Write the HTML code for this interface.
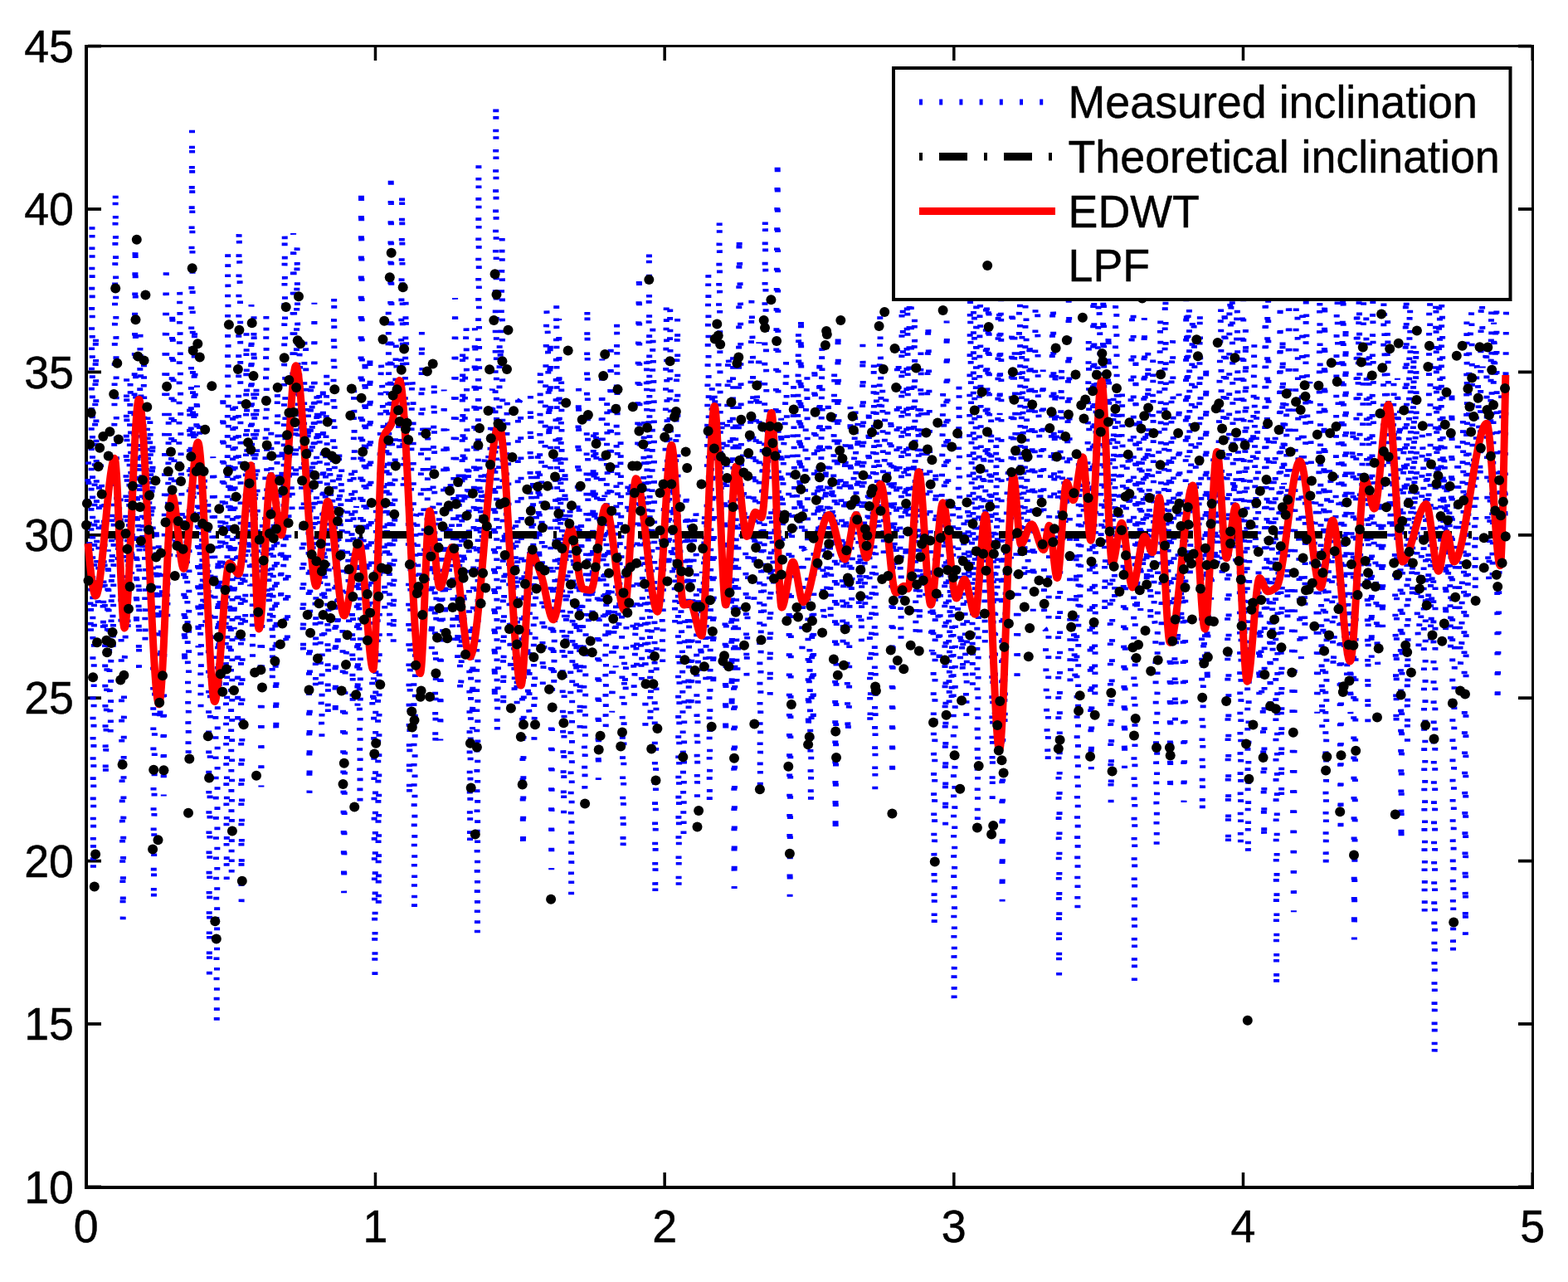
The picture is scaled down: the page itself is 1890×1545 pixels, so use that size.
<!DOCTYPE html>
<html><head><meta charset="utf-8"><style>html,body{margin:0;padding:0;background:#fff;overflow:hidden}svg{display:block}</style></head>
<body><svg width="1890" height="1545" viewBox="0 0 1890 1545">
<rect width="1890" height="1545" fill="#fff"/>
<g fill="#000">
<rect x="102" y="54" width="4" height="1379"/>
<rect x="102" y="54" width="1747" height="3"/>
<rect x="1846" y="54" width="3" height="1379"/>
<rect x="102" y="1429" width="1747" height="4"/>
<rect x="102.05" y="1413" width="3.5" height="16"/>
<rect x="102.05" y="57" width="3.5" height="16"/>
<rect x="450.72" y="1413" width="3.5" height="16"/>
<rect x="450.72" y="57" width="3.5" height="16"/>
<rect x="799.39" y="1413" width="3.5" height="16"/>
<rect x="799.39" y="57" width="3.5" height="16"/>
<rect x="1148.06" y="1413" width="3.5" height="16"/>
<rect x="1148.06" y="57" width="3.5" height="16"/>
<rect x="1496.73" y="1413" width="3.5" height="16"/>
<rect x="1496.73" y="57" width="3.5" height="16"/>
<rect x="1845.40" y="1413" width="3.5" height="16"/>
<rect x="1845.40" y="57" width="3.5" height="16"/>
<rect x="106" y="1428.50" width="16" height="3.8"/>
<rect x="1830" y="1428.50" width="16" height="3.8"/>
<rect x="106" y="1232.10" width="16" height="3.8"/>
<rect x="1830" y="1232.10" width="16" height="3.8"/>
<rect x="106" y="1035.70" width="16" height="3.8"/>
<rect x="1830" y="1035.70" width="16" height="3.8"/>
<rect x="106" y="839.30" width="16" height="3.8"/>
<rect x="1830" y="839.30" width="16" height="3.8"/>
<rect x="106" y="642.90" width="16" height="3.8"/>
<rect x="1830" y="642.90" width="16" height="3.8"/>
<rect x="106" y="446.50" width="16" height="3.8"/>
<rect x="1830" y="446.50" width="16" height="3.8"/>
<rect x="106" y="250.10" width="16" height="3.8"/>
<rect x="1830" y="250.10" width="16" height="3.8"/>
<rect x="106" y="53.70" width="16" height="3.8"/>
<rect x="1830" y="53.70" width="16" height="3.8"/>
</g>
<polyline points="105.0,604.8 106.5,556.3 108.0,658.4 109.5,767.4 111.0,267.8 112.4,1051.6 113.9,616.1 115.4,400.6 116.9,709.4 118.4,729.1 119.9,538.4 121.4,556.9 122.9,594.7 124.4,764.4 125.8,606.6 127.3,937.8 128.8,817.5 130.3,662.4 131.8,798.0 133.3,887.1 134.8,612.3 136.3,784.4 137.8,523.3 139.2,229.4 140.7,609.1 142.2,679.3 143.7,609.5 145.2,595.6 146.7,885.3 148.2,1108.5 149.7,805.8 151.1,776.1 152.6,455.5 154.1,763.3 155.6,622.5 157.1,456.2 158.6,691.9 160.1,599.9 161.6,550.7 163.1,295.5 164.5,758.0 166.0,533.0 167.5,805.5 169.0,400.6 170.5,529.8 172.0,664.6 173.5,435.7 175.0,776.6 176.5,572.1 177.9,498.7 179.4,639.8 180.9,504.4 182.4,642.5 183.9,529.3 185.4,1087.3 186.9,774.1 188.4,632.2 189.9,749.1 191.3,651.3 192.8,871.9 194.3,764.0 195.8,691.2 197.3,959.5 198.8,442.8 200.3,318.0 201.8,746.7 203.3,492.6 204.7,671.4 206.2,603.7 207.7,372.6 209.2,469.4 210.7,643.8 212.2,654.7 213.7,639.4 215.2,674.4 216.7,347.0 218.1,551.6 219.6,634.5 221.1,648.9 222.6,803.0 224.1,614.0 225.6,682.6 227.1,912.7 228.6,485.2 230.0,592.8 231.5,155.9 233.0,632.9 234.5,392.2 236.0,566.5 237.5,464.4 239.0,780.5 240.5,506.4 242.0,855.6 243.4,629.7 244.9,740.1 246.4,571.4 247.9,751.5 249.4,728.5 250.9,600.3 252.4,1175.4 253.9,685.6 255.4,698.4 256.8,550.4 258.3,583.8 259.8,845.6 261.3,1234.1 262.8,657.8 264.3,836.1 265.8,607.4 267.3,789.0 268.8,472.6 270.2,597.3 271.7,608.5 273.2,1062.2 274.7,302.0 276.2,804.4 277.7,552.1 279.2,1055.6 280.7,486.9 282.2,758.4 283.6,484.9 285.1,595.1 286.6,877.3 288.1,275.7 289.6,372.4 291.1,1087.8 292.6,652.6 294.1,626.7 295.6,757.4 297.0,400.4 298.5,671.6 300.0,583.8 301.5,706.4 303.0,367.0 304.5,795.9 306.0,380.8 307.5,634.8 308.9,460.8 310.4,633.4 311.9,758.3 313.4,694.7 314.9,948.4 316.4,626.2 317.9,682.1 319.4,659.6 320.9,377.6 322.3,726.5 323.8,696.3 325.3,756.1 326.8,519.5 328.3,823.2 329.8,615.6 331.3,691.0 332.8,886.1 334.3,469.0 335.7,601.0 337.2,587.9 338.7,728.4 340.2,523.6 341.7,688.0 343.2,278.3 344.7,771.1 346.2,780.9 347.7,652.2 349.1,508.3 350.6,554.8 352.1,616.0 353.6,281.0 355.1,425.0 356.6,581.0 358.1,296.9 359.6,530.0 361.1,423.1 362.5,479.0 364.0,645.5 365.5,791.2 367.0,405.4 368.5,410.9 370.0,606.4 371.5,499.3 373.0,955.8 374.5,465.4 375.9,456.4 377.4,694.0 378.9,364.8 380.4,833.2 381.9,477.1 383.4,537.0 384.9,469.0 386.4,804.8 387.9,890.9 389.3,461.9 390.8,766.0 392.3,592.5 393.8,445.9 395.3,865.0 396.8,544.7 398.3,583.6 399.8,636.2 401.2,592.5 402.7,353.7 404.2,864.9 405.7,642.7 407.2,783.9 408.7,539.2 410.2,639.2 411.7,563.5 413.2,801.6 414.6,1076.2 416.1,803.7 417.6,783.2 419.1,598.0 420.6,760.3 422.1,564.4 423.6,563.5 425.1,852.4 426.6,463.6 428.0,625.5 429.5,610.1 431.0,850.7 432.5,682.6 434.0,969.6 435.5,226.8 437.0,598.6 438.5,667.1 440.0,429.6 441.4,635.3 442.9,755.5 444.4,734.7 445.9,425.6 447.4,647.1 448.9,855.7 450.4,816.3 451.9,1176.7 453.4,610.0 454.8,611.4 456.3,1095.3 457.8,577.2 459.3,433.8 460.8,468.6 462.3,523.5 463.8,734.9 465.3,471.6 466.8,672.8 468.2,371.8 469.7,770.5 471.2,208.2 472.7,554.8 474.2,774.8 475.7,625.8 477.2,413.2 478.7,475.9 480.1,494.9 481.6,546.6 483.1,523.5 484.6,230.7 486.1,592.4 487.6,584.4 489.1,362.3 490.6,516.3 492.1,584.2 493.5,961.7 495.0,671.1 496.5,453.3 498.0,471.6 499.5,1097.9 501.0,625.7 502.5,614.8 504.0,698.8 505.5,693.5 506.9,650.3 508.4,399.1 509.9,550.9 511.4,642.0 512.9,716.5 514.4,713.4 515.9,510.9 517.4,580.1 518.9,650.3 520.3,782.1 521.8,610.6 523.3,457.3 524.8,899.5 526.3,654.5 527.8,657.8 529.3,604.6 530.8,892.5 532.3,662.3 533.7,765.3 535.2,469.6 536.7,746.8 538.2,516.7 539.7,664.7 541.2,711.2 542.7,575.5 544.2,607.1 545.7,774.4 547.1,529.6 548.6,359.0 550.1,646.9 551.6,792.9 553.1,566.9 554.6,836.1 556.1,817.3 557.6,419.1 559.0,792.8 560.5,461.4 562.0,390.1 563.5,606.6 565.0,558.7 566.5,1019.3 568.0,752.3 569.5,879.2 571.0,641.2 572.4,395.2 573.9,479.1 575.4,1128.9 576.9,196.3 578.4,711.4 579.9,571.1 581.4,649.2 582.9,572.1 584.4,552.0 585.8,646.4 587.3,596.6 588.8,549.1 590.3,592.6 591.8,488.2 593.3,468.5 594.8,554.9 596.3,845.6 597.8,125.5 599.2,884.9 600.7,793.0 602.2,410.8 603.7,437.8 605.2,283.6 606.7,854.7 608.2,635.1 609.7,694.4 611.2,480.5 612.6,560.2 614.1,737.7 615.6,813.0 617.1,633.9 618.6,663.0 620.1,835.8 621.6,628.9 623.1,849.2 624.6,471.9 626.0,483.6 627.5,481.5 629.0,743.8 630.5,1023.0 632.0,673.4 633.5,707.2 635.0,688.8 636.5,841.7 637.9,858.5 639.4,475.9 640.9,641.6 642.4,573.2 643.9,894.2 645.4,744.1 646.9,583.4 648.4,548.2 649.9,679.7 651.3,443.6 652.8,583.4 654.3,825.7 655.8,780.3 657.3,489.5 658.8,372.3 660.3,403.0 661.8,531.9 663.3,407.9 664.7,1048.2 666.2,687.0 667.7,827.2 669.2,665.4 670.7,365.6 672.2,740.3 673.7,384.0 675.2,688.6 676.7,453.7 678.1,827.2 679.6,981.5 681.1,551.1 682.6,781.0 684.1,686.6 685.6,677.4 687.1,607.1 688.6,1082.0 690.1,739.8 691.5,653.9 693.0,779.1 694.5,827.1 696.0,621.3 697.5,467.8 699.0,878.4 700.5,621.9 702.0,733.7 703.5,789.2 704.9,953.7 706.4,711.9 707.9,369.0 709.4,756.3 710.9,559.3 712.4,663.0 713.9,751.1 715.4,522.4 716.8,644.9 718.3,513.1 719.8,618.8 721.3,940.0 722.8,619.3 724.3,589.2 725.8,432.6 727.3,744.8 728.8,596.6 730.2,880.3 731.7,480.2 733.2,774.6 734.7,604.4 736.2,410.7 737.7,858.6 739.2,788.9 740.7,734.9 742.2,804.4 743.6,385.0 745.1,758.2 746.6,747.3 748.1,530.0 749.6,758.5 751.1,1025.7 752.6,797.2 754.1,836.3 755.6,681.1 757.0,579.0 758.5,617.2 760.0,576.1 761.5,586.1 763.0,762.3 764.5,844.1 766.0,748.8 767.5,803.2 769.0,452.7 770.4,329.4 771.9,746.1 773.4,822.0 774.9,651.0 776.4,506.5 777.9,884.9 779.4,429.2 780.9,791.8 782.4,299.8 783.8,873.3 785.3,788.1 786.8,392.5 788.3,491.0 789.8,1080.7 791.3,780.3 792.8,700.2 794.3,637.0 795.8,641.4 797.2,636.4 798.7,802.0 800.2,614.7 801.7,600.7 803.2,367.1 804.7,600.1 806.2,699.6 807.7,367.0 809.1,666.1 810.6,690.2 812.1,579.5 813.6,753.3 815.1,483.9 816.6,382.8 818.1,1073.3 819.6,646.9 821.1,746.6 822.5,789.1 824.0,1009.3 825.5,723.5 827.0,591.2 828.5,631.3 830.0,860.5 831.5,619.0 833.0,857.3 834.5,735.5 835.9,682.7 837.4,619.5 838.9,611.6 840.4,963.0 841.9,713.0 843.4,705.9 844.9,808.7 846.4,688.9 847.9,732.1 849.3,614.9 850.8,822.4 852.3,566.2 853.8,326.0 855.3,969.6 856.8,640.3 858.3,462.7 859.8,830.5 861.3,469.2 862.7,508.9 864.2,509.7 865.7,503.9 867.2,262.5 868.7,639.2 870.2,500.8 871.7,546.9 873.2,592.6 874.7,886.6 876.1,538.1 877.6,425.6 879.1,444.0 880.6,565.0 882.1,857.1 883.6,425.3 885.1,1070.9 886.6,509.2 888.0,824.9 889.5,794.0 891.0,283.6 892.5,368.4 894.0,651.1 895.5,547.6 897.0,615.1 898.5,641.5 900.0,814.9 901.4,718.8 902.9,528.3 904.4,531.3 905.9,360.9 907.4,425.9 908.9,722.9 910.4,601.2 911.9,468.5 913.4,493.8 914.8,412.3 916.3,949.8 917.8,646.3 919.3,531.1 920.8,756.9 922.3,261.1 923.8,474.5 925.3,573.8 926.8,505.2 928.2,838.8 929.7,611.5 931.2,653.8 932.7,706.7 934.2,629.5 935.7,435.7 937.2,192.4 938.7,717.0 940.2,628.4 941.6,503.7 943.1,652.8 944.6,538.6 946.1,512.9 947.6,433.6 949.1,569.4 950.6,568.1 952.1,1080.7 953.6,705.2 955.0,619.7 956.5,459.8 958.0,641.1 959.5,624.6 961.0,585.7 962.5,395.5 964.0,630.4 965.5,379.5 966.9,792.6 968.4,661.1 969.9,662.8 971.4,495.7 972.9,450.8 974.4,880.7 975.9,778.4 977.4,969.6 978.9,730.6 980.3,874.0 981.8,438.9 983.3,528.2 984.8,525.7 986.3,686.6 987.8,430.0 989.3,642.0 990.8,414.0 992.3,751.3 993.7,739.9 995.2,559.8 996.7,712.0 998.2,478.9 999.7,549.1 1001.2,749.5 1002.7,582.4 1004.2,655.6 1005.7,443.4 1007.1,1004.8 1008.6,676.5 1010.1,399.8 1011.6,595.8 1013.1,571.3 1014.6,630.8 1016.1,775.8 1017.6,591.8 1019.1,535.2 1020.5,750.3 1022.0,886.2 1023.5,848.2 1025.0,490.1 1026.5,727.6 1028.0,620.6 1029.5,558.7 1031.0,488.6 1032.5,649.5 1033.9,509.9 1035.4,746.7 1036.9,660.4 1038.4,775.5 1039.9,414.5 1041.4,613.0 1042.9,735.2 1044.4,670.5 1045.8,647.8 1047.3,490.1 1048.8,875.2 1050.3,777.4 1051.8,662.3 1053.3,433.0 1054.8,953.7 1056.3,466.5 1057.8,623.1 1059.2,643.2 1060.7,375.3 1062.2,496.6 1063.7,468.3 1065.2,670.5 1066.7,493.2 1068.2,478.0 1069.7,491.3 1071.2,637.3 1072.6,536.7 1074.1,499.8 1075.6,937.3 1077.1,560.8 1078.6,680.9 1080.1,683.4 1081.6,420.0 1083.1,437.3 1084.6,620.6 1086.0,774.8 1087.5,196.7 1089.0,565.1 1090.5,572.8 1092.0,676.4 1093.5,315.0 1095.0,628.8 1096.5,286.4 1098.0,294.3 1099.4,617.4 1100.9,648.7 1102.4,378.0 1103.9,766.8 1105.4,589.7 1106.9,485.1 1108.4,763.6 1109.9,423.9 1111.4,564.3 1112.8,706.8 1114.3,688.5 1115.8,722.4 1117.3,505.1 1118.8,388.3 1120.3,502.0 1121.8,743.3 1123.3,785.4 1124.7,689.4 1126.2,1118.3 1127.7,563.5 1129.2,643.4 1130.7,730.9 1132.2,802.9 1133.7,701.2 1135.2,597.7 1136.7,470.1 1138.1,528.5 1139.6,994.7 1141.1,386.6 1142.6,534.1 1144.1,851.7 1145.6,655.0 1147.1,846.0 1148.6,603.6 1150.1,1208.2 1151.5,748.7 1153.0,736.3 1154.5,749.7 1156.0,460.7 1157.5,794.4 1159.0,764.3 1160.5,814.9 1162.0,625.2 1163.5,782.0 1164.9,865.6 1166.4,598.3 1167.9,704.0 1169.4,347.8 1170.9,524.1 1172.4,830.3 1173.9,186.6 1175.4,715.8 1176.9,309.9 1178.3,992.9 1179.8,636.7 1181.3,314.5 1182.8,654.7 1184.3,582.2 1185.8,542.1 1187.3,779.0 1188.8,240.0 1190.3,556.2 1191.7,305.3 1193.2,636.6 1194.7,504.3 1196.2,964.3 1197.7,635.6 1199.2,860.8 1200.7,530.3 1202.2,727.2 1203.7,200.3 1205.1,500.1 1206.6,345.8 1208.1,1086.5 1209.6,650.1 1211.1,876.4 1212.6,646.8 1214.1,591.6 1215.6,561.8 1217.0,589.7 1218.5,673.5 1220.0,261.8 1221.5,564.9 1223.0,404.7 1224.5,616.0 1226.0,825.3 1227.5,705.8 1229.0,227.9 1230.4,665.9 1231.9,403.7 1233.4,535.6 1234.9,711.9 1236.4,256.5 1237.9,588.9 1239.4,694.3 1240.9,409.7 1242.4,447.5 1243.8,497.4 1245.3,736.8 1246.8,652.1 1248.3,312.5 1249.8,208.3 1251.3,478.5 1252.8,527.6 1254.3,619.0 1255.8,499.9 1257.2,445.6 1258.7,757.4 1260.2,758.9 1261.7,866.3 1263.2,920.7 1264.7,621.3 1266.2,595.9 1267.7,505.8 1269.2,306.5 1270.6,598.5 1272.1,443.1 1273.6,541.1 1275.1,558.3 1276.6,1176.7 1278.1,546.3 1279.6,439.4 1281.1,658.1 1282.6,576.2 1284.0,629.7 1285.5,617.4 1287.0,517.1 1288.5,325.0 1290.0,825.3 1291.5,765.4 1293.0,749.8 1294.5,764.9 1295.9,816.5 1297.4,636.1 1298.9,1099.2 1300.4,542.3 1301.9,736.4 1303.4,611.2 1304.9,575.9 1306.4,620.3 1307.9,634.7 1309.3,627.7 1310.8,570.8 1312.3,404.6 1313.8,750.2 1315.3,927.3 1316.8,715.9 1318.3,174.4 1319.8,843.1 1321.3,443.3 1322.7,477.1 1324.2,350.1 1325.7,393.7 1327.2,662.6 1328.7,556.1 1330.2,295.2 1331.7,740.4 1333.2,604.0 1334.7,532.9 1336.1,399.5 1337.6,602.5 1339.1,967.7 1340.6,767.3 1342.1,478.7 1343.6,725.4 1345.1,217.6 1346.6,553.3 1348.1,468.7 1349.5,633.5 1351.0,632.5 1352.5,470.6 1354.0,672.5 1355.5,925.9 1357.0,635.7 1358.5,548.0 1360.0,554.2 1361.5,640.0 1362.9,493.4 1364.4,396.9 1365.9,274.6 1367.4,1184.4 1368.9,426.7 1370.4,740.3 1371.9,620.3 1373.4,500.9 1374.8,735.9 1376.3,550.8 1377.8,688.9 1379.3,383.0 1380.8,542.4 1382.3,706.8 1383.8,424.0 1385.3,616.7 1386.8,751.4 1388.2,636.3 1389.7,431.7 1391.2,743.8 1392.7,755.9 1394.2,1022.5 1395.7,650.9 1397.2,500.4 1398.7,382.0 1400.2,787.5 1401.6,658.5 1403.1,674.7 1404.6,284.1 1406.1,656.6 1407.6,732.4 1409.1,537.0 1410.6,955.6 1412.1,447.7 1413.6,409.4 1415.0,670.9 1416.5,868.9 1418.0,723.6 1419.5,779.8 1421.0,474.4 1422.5,632.8 1424.0,754.1 1425.5,650.3 1427.0,967.0 1428.4,851.1 1429.9,311.4 1431.4,551.2 1432.9,184.4 1434.4,697.4 1435.9,533.3 1437.4,380.8 1438.9,381.1 1440.4,473.6 1441.8,613.9 1443.3,664.6 1444.8,669.8 1446.3,374.2 1447.8,589.7 1449.3,980.2 1450.8,753.1 1452.3,807.3 1453.7,437.9 1455.2,825.3 1456.7,701.5 1458.2,574.8 1459.7,722.7 1461.2,674.7 1462.7,551.9 1464.2,680.7 1465.7,583.8 1467.1,686.0 1468.6,577.6 1470.1,452.8 1471.6,368.6 1473.1,692.8 1474.6,513.7 1476.1,370.5 1477.6,431.6 1479.1,583.0 1480.5,1022.0 1482.0,336.7 1483.5,393.4 1485.0,307.4 1486.5,610.6 1488.0,576.0 1489.5,678.9 1491.0,319.5 1492.5,553.9 1493.9,575.2 1495.4,1021.2 1496.9,443.0 1498.4,264.0 1499.9,779.5 1501.4,396.8 1502.9,619.4 1504.4,1031.8 1505.9,654.9 1507.3,506.1 1508.8,528.5 1510.3,551.7 1511.8,411.0 1513.3,666.2 1514.8,476.2 1516.3,556.2 1517.8,837.4 1519.3,739.7 1520.7,834.3 1522.2,849.2 1523.7,1013.2 1525.2,285.1 1526.7,739.7 1528.2,228.2 1529.7,682.3 1531.2,847.4 1532.6,573.2 1534.1,790.9 1535.6,526.7 1537.1,518.7 1538.6,1190.5 1540.1,719.2 1541.6,668.6 1543.1,351.7 1544.6,965.6 1546.0,404.2 1547.5,583.9 1549.0,499.6 1550.5,481.8 1552.0,751.4 1553.5,324.8 1555.0,592.9 1556.5,615.4 1558.0,869.4 1559.4,1099.2 1560.9,594.2 1562.4,354.3 1563.9,367.5 1565.4,627.5 1566.9,779.9 1568.4,793.9 1569.9,296.7 1571.4,536.8 1572.8,772.3 1574.3,336.2 1575.8,504.5 1577.3,471.6 1578.8,460.0 1580.3,552.9 1581.8,702.7 1583.3,683.9 1584.8,637.8 1586.2,599.8 1587.7,859.7 1589.2,781.3 1590.7,335.0 1592.2,682.4 1593.7,877.8 1595.2,730.3 1596.7,349.4 1598.2,1045.0 1599.6,590.2 1601.1,718.4 1602.6,562.0 1604.1,583.4 1605.6,716.2 1607.1,807.1 1608.6,756.3 1610.1,610.6 1611.6,300.4 1613.0,482.3 1614.5,712.9 1616.0,1006.1 1617.5,454.2 1619.0,329.3 1620.5,784.6 1622.0,390.2 1623.5,818.9 1624.9,724.7 1626.4,721.8 1627.9,860.2 1629.4,566.1 1630.9,512.0 1632.4,1132.5 1633.9,837.8 1635.4,335.0 1636.9,483.0 1638.3,335.4 1639.8,711.0 1641.3,611.6 1642.8,503.2 1644.3,235.9 1645.8,193.7 1647.3,484.0 1648.8,871.3 1650.3,410.7 1651.7,604.8 1653.2,792.7 1654.7,335.7 1656.2,662.7 1657.7,666.8 1659.2,744.7 1660.7,801.0 1662.2,597.1 1663.7,574.5 1665.1,644.9 1666.6,756.1 1668.1,312.6 1669.6,496.1 1671.1,560.3 1672.6,383.4 1674.1,538.2 1675.6,649.6 1677.1,552.8 1678.5,643.6 1680.0,457.3 1681.5,693.4 1683.0,876.7 1684.5,455.7 1686.0,536.7 1687.5,494.9 1689.0,1015.6 1690.5,674.2 1691.9,541.6 1693.4,599.2 1694.9,235.4 1696.4,895.5 1697.9,615.4 1699.4,319.2 1700.9,644.1 1702.4,723.7 1703.8,415.2 1705.3,651.3 1706.8,415.7 1708.3,739.8 1709.8,782.5 1711.3,738.3 1712.8,745.4 1714.3,520.7 1715.8,566.6 1717.2,1104.0 1718.7,599.6 1720.2,542.0 1721.7,732.2 1723.2,191.3 1724.7,774.1 1726.2,690.0 1727.7,674.9 1729.2,1273.8 1730.6,312.6 1732.1,579.4 1733.6,569.9 1735.1,305.6 1736.6,655.0 1738.1,278.9 1739.6,650.6 1741.1,535.5 1742.6,759.1 1744.0,576.2 1745.5,698.5 1747.0,613.7 1748.5,785.7 1750.0,467.4 1751.5,1151.0 1753.0,830.5 1754.5,667.3 1756.0,594.7 1757.4,526.6 1758.9,720.3 1760.4,802.0 1761.9,774.4 1763.4,502.3 1764.9,767.2 1766.4,1127.1 1767.9,384.1 1769.4,722.4 1770.8,412.4 1772.3,405.7 1773.8,372.6 1775.3,593.8 1776.8,546.0 1778.3,726.4 1779.8,436.5 1781.3,455.4 1782.7,515.7 1784.2,577.8 1785.7,264.0 1787.2,443.4 1788.7,408.4 1790.2,437.8 1791.7,417.9 1793.2,659.5 1794.7,698.5 1796.1,610.4 1797.6,369.5 1799.1,697.3 1800.6,388.7 1802.1,455.9 1803.6,292.2 1805.1,847.7 1806.6,725.9 1808.1,601.8 1809.5,475.1 1811.0,512.8 1812.5,510.3 1814.0,630.8 1815.5,362.2" fill="none" stroke="#00f" stroke-width="7" stroke-dasharray="3.6 20.6" stroke-linejoin="miter" stroke-miterlimit="1"/>
<line x1="104" y1="644.6" x2="355" y2="644.6" stroke="#000" stroke-width="9" stroke-dasharray="4 20 34 20"/>
<line x1="355" y1="644.6" x2="790" y2="644.6" stroke="#000" stroke-width="9" stroke-dasharray="4 20 34 20"/>
<line x1="790" y1="644.6" x2="1380" y2="644.6" stroke="#000" stroke-width="9" stroke-dasharray="4 20 34 20"/>
<line x1="1380" y1="644.6" x2="1815.5" y2="644.6" stroke="#000" stroke-width="9" stroke-dasharray="4 20 34 20"/>
<polyline points="106.0,655.0 106.5,660.3 107.0,665.6 107.5,670.7 108.0,675.7 108.5,680.5 109.0,685.1 109.5,689.6 110.0,693.7 110.5,697.7 111.0,701.3 111.5,704.7 112.0,707.7 112.5,710.4 113.0,712.7 113.5,714.6 114.0,716.1 114.5,717.2 115.0,717.8 115.5,718.0 116.0,717.7 116.5,716.9 117.0,715.7 117.5,714.0 118.0,712.0 118.5,709.7 119.0,706.9 119.5,703.9 120.0,700.5 120.5,696.9 121.0,693.0 121.5,688.8 122.0,684.4 122.5,679.8 123.0,675.1 123.5,670.2 124.0,665.1 124.5,660.0 125.0,654.7 125.5,649.3 126.0,643.9 126.5,638.5 127.0,633.1 127.5,627.6 128.0,622.2 128.5,616.9 129.0,611.6 129.5,606.4 130.0,601.3 130.5,596.4 131.0,591.6 131.5,587.0 132.0,582.6 132.5,578.4 133.0,574.4 133.5,570.7 134.0,567.3 134.5,564.2 135.0,561.4 135.5,558.9 136.0,556.8 136.5,555.1 137.0,553.8 137.5,553.0 138.0,552.5 138.5,552.9 139.0,555.2 139.5,559.4 140.0,565.3 140.5,572.8 141.0,581.6 141.5,591.5 142.0,602.5 142.5,614.2 143.0,626.5 143.5,639.2 144.0,652.2 144.5,665.1 145.0,678.0 145.5,690.5 146.0,702.4 146.5,713.7 147.0,724.1 147.5,733.4 148.0,741.4 148.5,747.9 149.0,752.8 149.5,755.9 150.0,757.0 150.5,756.3 151.0,754.4 151.5,751.2 152.0,746.9 152.5,741.6 153.0,735.2 153.5,728.0 154.0,720.0 154.5,711.2 155.0,701.8 155.5,691.8 156.0,681.2 156.5,670.3 157.0,659.0 157.5,647.5 158.0,635.7 158.5,623.9 159.0,612.0 159.5,600.1 160.0,588.4 160.5,576.9 161.0,565.7 161.5,554.8 162.0,544.4 162.5,534.5 163.0,525.2 163.5,516.6 164.0,508.7 164.5,501.6 165.0,495.5 165.5,490.3 166.0,486.3 166.5,483.3 167.0,481.6 167.5,481.2 168.0,481.9 168.5,483.4 169.0,485.8 169.5,489.0 170.0,493.0 170.5,497.8 171.0,503.2 171.5,509.3 172.0,516.0 172.5,523.3 173.0,531.1 173.5,539.5 174.0,548.3 174.5,557.6 175.0,567.2 175.5,577.2 176.0,587.5 176.5,598.0 177.0,608.8 177.5,619.8 178.0,631.0 178.5,642.3 179.0,653.6 179.5,665.0 180.0,676.4 180.5,687.7 181.0,699.0 181.5,710.2 182.0,721.2 182.5,732.0 183.0,742.5 183.5,752.8 184.0,762.8 184.5,772.4 185.0,781.7 185.5,790.5 186.0,798.9 186.5,806.7 187.0,814.0 187.5,820.7 188.0,826.8 188.5,832.2 189.0,837.0 189.5,841.0 190.0,844.2 190.5,846.6 191.0,848.1 191.5,848.8 192.0,848.3 192.5,846.6 193.0,843.5 193.5,839.3 194.0,833.9 194.5,827.5 195.0,820.3 195.5,812.2 196.0,803.3 196.5,793.8 197.0,783.7 197.5,773.2 198.0,762.2 198.5,751.0 199.0,739.5 199.5,727.9 200.0,716.3 200.5,704.8 201.0,693.3 201.5,682.2 202.0,671.3 202.5,660.8 203.0,650.8 203.5,641.5 204.0,632.8 204.5,624.8 205.0,617.7 205.5,611.5 206.0,606.4 206.5,602.4 207.0,599.6 207.5,598.1 208.0,597.9 208.5,598.5 209.0,599.7 209.5,601.6 210.0,603.9 210.5,606.8 211.0,610.1 211.5,613.7 212.0,617.7 212.5,621.9 213.0,626.4 213.5,631.0 214.0,635.8 214.5,640.6 215.0,645.4 215.5,650.2 216.0,654.9 216.5,659.4 217.0,663.8 217.5,667.8 218.0,671.6 218.5,675.1 219.0,678.1 219.5,680.7 220.0,682.7 220.5,684.2 221.0,685.1 221.5,685.3 222.0,684.8 222.5,683.5 223.0,681.6 223.5,679.0 224.0,675.9 224.5,672.3 225.0,668.1 225.5,663.5 226.0,658.5 226.5,653.1 227.0,647.4 227.5,641.4 228.0,635.3 228.5,628.9 229.0,622.4 229.5,615.8 230.0,609.2 230.5,602.6 231.0,596.0 231.5,589.5 232.0,583.1 232.5,577.0 233.0,571.0 233.5,565.3 234.0,559.9 234.5,554.9 235.0,550.3 235.5,546.1 236.0,542.5 236.5,539.4 237.0,536.8 237.5,534.9 238.0,533.6 238.5,533.1 239.0,533.5 239.5,534.9 240.0,537.4 240.5,540.9 241.0,545.4 241.5,550.7 242.0,556.9 242.5,563.8 243.0,571.5 243.5,579.8 244.0,588.6 244.5,598.1 245.0,608.0 245.5,618.3 246.0,629.0 246.5,640.0 247.0,651.2 247.5,662.6 248.0,674.2 248.5,685.9 249.0,697.5 249.5,709.1 250.0,720.6 250.5,732.0 251.0,743.2 251.5,754.0 252.0,764.6 252.5,774.7 253.0,784.5 253.5,793.7 254.0,802.3 254.5,810.4 255.0,817.7 255.5,824.4 256.0,830.2 256.5,835.2 257.0,839.3 257.5,842.4 258.0,844.5 258.5,845.5 259.0,845.5 259.5,844.6 260.0,843.1 260.5,840.8 261.0,838.0 261.5,834.5 262.0,830.5 262.5,826.0 263.0,821.1 263.5,815.8 264.0,810.0 264.5,804.0 265.0,797.7 265.5,791.2 266.0,784.4 266.5,777.6 267.0,770.6 267.5,763.6 268.0,756.6 268.5,749.6 269.0,742.7 269.5,735.9 270.0,729.3 270.5,722.9 271.0,716.7 271.5,710.9 272.0,705.4 272.5,700.3 273.0,695.6 273.5,691.4 274.0,687.7 274.5,684.6 275.0,682.2 275.5,680.3 276.0,679.2 276.5,678.8 277.0,678.9 277.5,679.1 278.0,679.4 278.5,679.9 279.0,680.4 279.5,681.0 280.0,681.7 280.5,682.5 281.0,683.3 281.5,684.1 282.0,685.0 282.5,685.8 283.0,686.7 283.5,687.5 284.0,688.3 284.5,689.0 285.0,689.7 285.5,690.3 286.0,690.8 286.5,691.2 287.0,691.5 287.5,691.7 288.0,691.6 288.5,690.8 289.0,689.2 289.5,686.8 290.0,683.7 290.5,679.9 291.0,675.6 291.5,670.7 292.0,665.4 292.5,659.7 293.0,653.7 293.5,647.4 294.0,640.9 294.5,634.2 295.0,627.5 295.5,620.8 296.0,614.1 296.5,607.5 297.0,601.1 297.5,595.0 298.0,589.1 298.5,583.7 299.0,578.6 299.5,574.1 300.0,570.1 300.5,566.7 301.0,564.0 301.5,562.0 302.0,560.9 302.5,560.7 303.0,562.8 303.5,567.6 304.0,574.9 304.5,584.4 305.0,595.6 305.5,608.2 306.0,622.0 306.5,636.6 307.0,651.7 307.5,667.0 308.0,682.1 308.5,696.7 309.0,710.5 309.5,723.1 310.0,734.3 310.5,743.8 311.0,751.1 311.5,755.9 312.0,758.0 312.5,757.7 313.0,756.1 313.5,753.3 314.0,749.5 314.5,744.8 315.0,739.1 315.5,732.7 316.0,725.6 316.5,717.9 317.0,709.7 317.5,701.0 318.0,692.0 318.5,682.8 319.0,673.4 319.5,663.9 320.0,654.4 320.5,645.1 321.0,635.9 321.5,627.1 322.0,618.6 322.5,610.5 323.0,603.1 323.5,596.2 324.0,590.1 324.5,584.8 325.0,580.4 325.5,577.0 326.0,574.7 326.5,573.6 327.0,573.6 327.5,574.4 328.0,575.7 328.5,577.6 329.0,580.0 329.5,582.9 330.0,586.1 330.5,589.7 331.0,593.5 331.5,597.6 332.0,601.8 332.5,606.1 333.0,610.5 333.5,614.8 334.0,619.0 334.5,623.2 335.0,627.1 335.5,630.8 336.0,634.1 336.5,637.2 337.0,639.8 337.5,641.9 338.0,643.5 338.5,644.5 339.0,644.8 339.5,644.3 340.0,642.9 340.5,640.6 341.0,637.5 341.5,633.6 342.0,629.0 342.5,623.8 343.0,618.0 343.5,611.6 344.0,604.8 344.5,597.5 345.0,589.8 345.5,581.9 346.0,573.7 346.5,565.2 347.0,556.7 347.5,548.0 348.0,539.3 348.5,530.7 349.0,522.1 349.5,513.6 350.0,505.3 350.5,497.3 351.0,489.6 351.5,482.3 352.0,475.3 352.5,468.9 353.0,462.9 353.5,457.6 354.0,452.8 354.5,448.8 355.0,445.6 355.5,443.1 356.0,441.5 356.5,440.8 357.0,441.0 357.5,441.8 358.0,443.3 358.5,445.3 359.0,447.9 359.5,451.0 360.0,454.6 360.5,458.7 361.0,463.2 361.5,468.2 362.0,473.6 362.5,479.3 363.0,485.4 363.5,491.7 364.0,498.4 364.5,505.4 365.0,512.5 365.5,519.9 366.0,527.5 366.5,535.2 367.0,543.0 367.5,551.0 368.0,559.0 368.5,567.1 369.0,575.2 369.5,583.3 370.0,591.3 370.5,599.3 371.0,607.2 371.5,615.0 372.0,622.7 372.5,630.2 373.0,637.5 373.5,644.5 374.0,651.4 374.5,657.9 375.0,664.2 375.5,670.1 376.0,675.7 376.5,680.9 377.0,685.7 377.5,690.1 378.0,694.0 378.5,697.4 379.0,700.3 379.5,702.7 380.0,704.5 380.5,705.7 381.0,706.2 381.5,706.2 382.0,705.3 382.5,703.7 383.0,701.4 383.5,698.5 384.0,695.1 384.5,691.2 385.0,686.9 385.5,682.2 386.0,677.2 386.5,671.9 387.0,666.5 387.5,660.9 388.0,655.3 388.5,649.7 389.0,644.1 389.5,638.7 390.0,633.4 390.5,628.4 391.0,623.7 391.5,619.4 392.0,615.5 392.5,612.1 393.0,609.2 393.5,606.9 394.0,605.3 394.5,604.4 395.0,604.3 395.5,604.8 396.0,605.7 396.5,607.1 397.0,608.9 397.5,611.1 398.0,613.7 398.5,616.7 399.0,620.0 399.5,623.5 400.0,627.4 400.5,631.5 401.0,635.8 401.5,640.3 402.0,645.0 402.5,649.8 403.0,654.7 403.5,659.8 404.0,664.9 404.5,670.0 405.0,675.2 405.5,680.3 406.0,685.4 406.5,690.5 407.0,695.4 407.5,700.3 408.0,705.0 408.5,709.5 409.0,713.9 409.5,718.0 410.0,721.9 410.5,725.6 411.0,728.9 411.5,731.9 412.0,734.6 412.5,736.9 413.0,738.8 413.5,740.2 414.0,741.3 414.5,741.8 415.0,741.9 415.5,741.5 416.0,740.8 416.5,739.8 417.0,738.4 417.5,736.7 418.0,734.7 418.5,732.5 419.0,730.1 419.5,727.4 420.0,724.6 420.5,721.6 421.0,718.4 421.5,715.1 422.0,711.7 422.5,708.2 423.0,704.7 423.5,701.1 424.0,697.5 424.5,693.9 425.0,690.3 425.5,686.8 426.0,683.3 426.5,680.0 427.0,676.7 427.5,673.6 428.0,670.7 428.5,667.9 429.0,665.3 429.5,663.0 430.0,660.8 430.5,659.0 431.0,657.4 431.5,656.2 432.0,655.3 432.5,654.7 433.0,654.5 433.5,654.9 434.0,656.1 434.5,657.9 435.0,660.5 435.5,663.6 436.0,667.3 436.5,671.6 437.0,676.3 437.5,681.4 438.0,686.9 438.5,692.8 439.0,698.9 439.5,705.2 440.0,711.8 440.5,718.4 441.0,725.2 441.5,732.0 442.0,738.7 442.5,745.5 443.0,752.1 443.5,758.5 444.0,764.8 444.5,770.8 445.0,776.5 445.5,781.9 446.0,786.9 446.5,791.4 447.0,795.4 447.5,798.9 448.0,801.8 448.5,804.1 449.0,805.7 449.5,806.6 450.0,806.5 450.5,803.8 451.0,798.5 451.5,790.8 452.0,780.9 452.5,769.1 453.0,755.7 453.5,740.9 454.0,725.0 454.5,708.2 455.0,690.9 455.5,673.2 456.0,655.4 456.5,637.8 457.0,620.6 457.5,604.2 458.0,588.7 458.5,574.5 459.0,561.7 459.5,550.7 460.0,541.7 460.5,534.9 461.0,530.7 461.5,528.8 462.0,527.3 462.5,525.9 463.0,524.7 463.5,523.6 464.0,522.6 464.5,521.7 465.0,520.9 465.5,520.2 466.0,519.5 466.5,518.9 467.0,518.2 467.5,517.6 468.0,517.0 468.5,516.4 469.0,515.7 469.5,515.0 470.0,514.2 470.5,513.4 471.0,512.4 471.5,511.3 472.0,510.1 472.5,508.8 473.0,507.1 473.5,504.9 474.0,502.2 474.5,499.1 475.0,495.8 475.5,492.2 476.0,488.5 476.5,484.7 477.0,480.9 477.5,477.1 478.0,473.5 478.5,470.1 479.0,467.1 479.5,464.3 480.0,462.1 480.5,460.3 481.0,459.1 481.5,458.6 482.0,458.9 482.5,460.0 483.0,461.8 483.5,464.5 484.0,467.8 484.5,471.8 485.0,476.5 485.5,481.9 486.0,487.8 486.5,494.2 487.0,501.2 487.5,508.7 488.0,516.6 488.5,524.9 489.0,533.6 489.5,542.7 490.0,552.0 490.5,561.7 491.0,571.5 491.5,581.6 492.0,591.9 492.5,602.3 493.0,612.8 493.5,623.4 494.0,634.0 494.5,644.7 495.0,655.3 495.5,665.8 496.0,676.2 496.5,686.5 497.0,696.7 497.5,706.6 498.0,716.3 498.5,725.7 499.0,734.8 499.5,743.6 500.0,752.0 500.5,760.0 501.0,767.5 501.5,774.6 502.0,781.2 502.5,787.2 503.0,792.6 503.5,797.5 504.0,801.6 504.5,805.1 505.0,807.9 505.5,809.9 506.0,811.2 506.5,811.6 507.0,810.5 507.5,807.3 508.0,802.2 508.5,795.4 509.0,787.1 509.5,777.5 510.0,766.8 510.5,755.3 511.0,743.1 511.5,730.4 512.0,717.5 512.5,704.5 513.0,691.7 513.5,679.1 514.0,667.2 514.5,656.0 515.0,645.7 515.5,636.7 516.0,628.9 516.5,622.8 517.0,618.4 517.5,616.0 518.0,615.7 518.5,616.5 519.0,618.1 519.5,620.4 520.0,623.4 520.5,627.0 521.0,631.1 521.5,635.6 522.0,640.5 522.5,645.7 523.0,651.1 523.5,656.7 524.0,662.3 524.5,667.9 525.0,673.5 525.5,678.8 526.0,684.0 526.5,688.8 527.0,693.3 527.5,697.3 528.0,700.7 528.5,703.6 529.0,705.8 529.5,707.3 530.0,707.9 530.5,707.8 531.0,707.4 531.5,706.7 532.0,705.8 532.5,704.7 533.0,703.3 533.5,701.7 534.0,700.0 534.5,698.1 535.0,696.0 535.5,693.9 536.0,691.7 536.5,689.3 537.0,687.0 537.5,684.6 538.0,682.2 538.5,679.8 539.0,677.5 539.5,675.2 540.0,673.0 540.5,670.9 541.0,668.8 541.5,667.0 542.0,665.3 542.5,663.7 543.0,662.4 543.5,661.3 544.0,660.4 544.5,659.8 545.0,659.5 545.5,659.4 546.0,659.8 546.5,660.6 547.0,661.8 547.5,663.4 548.0,665.3 548.5,667.6 549.0,670.2 549.5,673.0 550.0,676.1 550.5,679.5 551.0,683.1 551.5,686.9 552.0,690.9 552.5,695.0 553.0,699.3 553.5,703.7 554.0,708.3 554.5,712.8 555.0,717.5 555.5,722.2 556.0,726.9 556.5,731.5 557.0,736.2 557.5,740.8 558.0,745.4 558.5,749.8 559.0,754.2 559.5,758.4 560.0,762.4 560.5,766.3 561.0,770.0 561.5,773.4 562.0,776.7 562.5,779.6 563.0,782.3 563.5,784.7 564.0,786.8 564.5,788.5 565.0,789.8 565.5,790.8 566.0,791.4 566.5,791.5 567.0,791.3 567.5,790.7 568.0,789.8 568.5,788.6 569.0,787.1 569.5,785.3 570.0,783.3 570.5,781.0 571.0,778.4 571.5,775.5 572.0,772.4 572.5,769.1 573.0,765.6 573.5,761.8 574.0,757.9 574.5,753.7 575.0,749.4 575.5,744.9 576.0,740.2 576.5,735.4 577.0,730.4 577.5,725.3 578.0,720.1 578.5,714.8 579.0,709.3 579.5,703.8 580.0,698.1 580.5,692.4 581.0,686.7 581.5,680.8 582.0,674.9 582.5,669.0 583.0,663.1 583.5,657.1 584.0,651.2 584.5,645.2 585.0,639.2 585.5,633.3 586.0,627.4 586.5,621.5 587.0,615.7 587.5,609.9 588.0,604.2 588.5,598.6 589.0,593.1 589.5,587.7 590.0,582.3 590.5,577.1 591.0,572.1 591.5,567.1 592.0,562.3 592.5,557.7 593.0,553.2 593.5,548.9 594.0,544.8 594.5,540.9 595.0,537.2 595.5,533.7 596.0,530.4 596.5,527.4 597.0,524.6 597.5,522.1 598.0,519.8 598.5,517.8 599.0,516.1 599.5,514.6 600.0,513.5 600.5,512.7 601.0,512.2 601.5,512.0 602.0,512.3 602.5,513.3 603.0,514.9 603.5,517.1 604.0,519.9 604.5,523.2 605.0,527.0 605.5,531.3 606.0,536.1 606.5,541.3 607.0,547.0 607.5,553.0 608.0,559.4 608.5,566.2 609.0,573.2 609.5,580.6 610.0,588.2 610.5,596.1 611.0,604.2 611.5,612.4 612.0,620.9 612.5,629.4 613.0,638.1 613.5,646.9 614.0,655.7 614.5,664.6 615.0,673.5 615.5,682.4 616.0,691.2 616.5,700.0 617.0,708.7 617.5,717.2 618.0,725.7 618.5,733.9 619.0,742.0 619.5,749.9 620.0,757.5 620.5,764.9 621.0,771.9 621.5,778.7 622.0,785.1 622.5,791.1 623.0,796.8 623.5,802.0 624.0,806.8 624.5,811.1 625.0,814.9 625.5,818.2 626.0,821.0 626.5,823.2 627.0,824.8 627.5,825.8 628.0,826.1 628.5,825.3 629.0,823.1 629.5,819.6 630.0,814.9 630.5,809.1 631.0,802.4 631.5,794.9 632.0,786.7 632.5,777.9 633.0,768.7 633.5,759.3 634.0,749.7 634.5,740.0 635.0,730.4 635.5,721.0 636.0,712.0 636.5,703.5 637.0,695.5 637.5,688.3 638.0,682.0 638.5,676.6 639.0,672.3 639.5,669.3 640.0,667.7 640.5,667.4 641.0,667.6 641.5,667.8 642.0,668.3 642.5,668.8 643.0,669.5 643.5,670.3 644.0,671.2 644.5,672.1 645.0,673.2 645.5,674.4 646.0,675.6 646.5,676.9 647.0,678.2 647.5,679.6 648.0,681.0 648.5,682.4 649.0,683.9 649.5,685.4 650.0,686.8 650.5,688.3 651.0,689.8 651.5,691.2 652.0,692.6 652.5,694.0 653.0,695.5 653.5,697.2 654.0,699.0 654.5,701.0 655.0,703.0 655.5,705.2 656.0,707.5 656.5,709.9 657.0,712.3 657.5,714.7 658.0,717.2 658.5,719.6 659.0,722.1 659.5,724.5 660.0,726.9 660.5,729.3 661.0,731.5 661.5,733.7 662.0,735.7 662.5,737.7 663.0,739.5 663.5,741.1 664.0,742.6 664.5,743.8 665.0,744.9 665.5,745.7 666.0,746.4 666.5,746.7 667.0,746.8 667.5,746.5 668.0,745.9 668.5,745.0 669.0,743.7 669.5,742.2 670.0,740.3 670.5,738.2 671.0,735.8 671.5,733.3 672.0,730.5 672.5,727.5 673.0,724.3 673.5,721.0 674.0,717.6 674.5,714.0 675.0,710.3 675.5,706.5 676.0,702.7 676.5,698.8 677.0,694.9 677.5,691.0 678.0,687.0 678.5,683.1 679.0,679.3 679.5,675.5 680.0,671.7 680.5,668.1 681.0,664.5 681.5,661.1 682.0,657.9 682.5,654.8 683.0,651.9 683.5,649.2 684.0,646.7 684.5,644.4 685.0,642.4 685.5,640.7 686.0,639.2 686.5,638.1 687.0,637.3 687.5,636.8 688.0,636.7 688.5,637.1 689.0,637.9 689.5,639.1 690.0,640.7 690.5,642.7 691.0,645.0 691.5,647.6 692.0,650.4 692.5,653.5 693.0,656.8 693.5,660.2 694.0,663.7 694.5,667.4 695.0,671.0 695.5,674.7 696.0,678.4 696.5,682.1 697.0,685.6 697.5,689.0 698.0,692.3 698.5,695.4 699.0,698.3 699.5,700.9 700.0,703.3 700.5,705.3 701.0,707.0 701.5,708.2 702.0,709.1 702.5,709.5 703.0,709.7 703.5,709.8 704.0,710.0 704.5,710.1 705.0,710.2 705.5,710.3 706.0,710.5 706.5,710.6 707.0,710.7 707.5,710.8 708.0,710.8 708.5,710.9 709.0,711.0 709.5,711.1 710.0,711.1 710.5,711.1 711.0,711.2 711.5,711.2 712.0,711.2 712.5,711.1 713.0,710.6 713.5,709.7 714.0,708.3 714.5,706.6 715.0,704.5 715.5,702.1 716.0,699.4 716.5,696.5 717.0,693.2 717.5,689.8 718.0,686.2 718.5,682.4 719.0,678.4 719.5,674.4 720.0,670.3 720.5,666.1 721.0,661.8 721.5,657.6 722.0,653.4 722.5,649.3 723.0,645.2 723.5,641.2 724.0,637.3 724.5,633.6 725.0,630.1 725.5,626.8 726.0,623.7 726.5,620.9 727.0,618.4 727.5,616.2 728.0,614.3 728.5,612.8 729.0,611.7 729.5,611.0 730.0,610.8 730.5,611.0 731.0,611.5 731.5,612.4 732.0,613.5 732.5,615.0 733.0,616.8 733.5,618.8 734.0,621.0 734.5,623.5 735.0,626.3 735.5,629.2 736.0,632.3 736.5,635.6 737.0,639.0 737.5,642.6 738.0,646.3 738.5,650.1 739.0,654.0 739.5,658.0 740.0,662.0 740.5,666.1 741.0,670.2 741.5,674.3 742.0,678.4 742.5,682.5 743.0,686.6 743.5,690.6 744.0,694.5 744.5,698.4 745.0,702.1 745.5,705.7 746.0,709.2 746.5,712.6 747.0,715.8 747.5,718.8 748.0,721.6 748.5,724.2 749.0,726.5 749.5,728.7 750.0,730.5 750.5,732.1 751.0,733.4 751.5,734.4 752.0,735.1 752.5,735.4 753.0,735.2 753.5,733.9 754.0,731.5 754.5,728.1 755.0,723.8 755.5,718.7 756.0,712.8 756.5,706.3 757.0,699.3 757.5,691.7 758.0,683.8 758.5,675.6 759.0,667.2 759.5,658.7 760.0,650.1 760.5,641.6 761.0,633.3 761.5,625.2 762.0,617.4 762.5,610.1 763.0,603.2 763.5,596.9 764.0,591.4 764.5,586.6 765.0,582.6 765.5,579.6 766.0,577.7 766.5,576.8 767.0,576.9 767.5,577.4 768.0,578.1 768.5,579.2 769.0,580.6 769.5,582.3 770.0,584.3 770.5,586.5 771.0,589.0 771.5,591.7 772.0,594.7 772.5,597.8 773.0,601.2 773.5,604.7 774.0,608.4 774.5,612.2 775.0,616.2 775.5,620.3 776.0,624.5 776.5,628.8 777.0,633.2 777.5,637.7 778.0,642.2 778.5,646.8 779.0,651.4 779.5,656.0 780.0,660.6 780.5,665.3 781.0,669.8 781.5,674.4 782.0,678.9 782.5,683.3 783.0,687.7 783.5,691.9 784.0,696.1 784.5,700.1 785.0,704.0 785.5,707.8 786.0,711.4 786.5,714.8 787.0,718.0 787.5,721.0 788.0,723.8 788.5,726.4 789.0,728.7 789.5,730.8 790.0,732.6 790.5,734.1 791.0,735.4 791.5,736.3 792.0,736.8 792.5,737.1 793.0,736.8 793.5,735.4 794.0,733.1 794.5,730.0 795.0,726.0 795.5,721.2 796.0,715.8 796.5,709.7 797.0,703.0 797.5,695.8 798.0,688.2 798.5,680.2 799.0,671.9 799.5,663.3 800.0,654.5 800.5,645.7 801.0,636.7 801.5,627.7 802.0,618.9 802.5,610.1 803.0,601.5 803.5,593.2 804.0,585.2 804.5,577.6 805.0,570.4 805.5,563.7 806.0,557.6 806.5,552.2 807.0,547.4 807.5,543.4 808.0,540.3 808.5,538.0 809.0,536.6 809.5,536.3 810.0,537.2 810.5,539.4 811.0,542.7 811.5,547.1 812.0,552.5 812.5,558.7 813.0,565.7 813.5,573.4 814.0,581.6 814.5,590.4 815.0,599.6 815.5,609.1 816.0,618.8 816.5,628.7 817.0,638.6 817.5,648.4 818.0,658.1 818.5,667.6 819.0,676.7 819.5,685.4 820.0,693.5 820.5,701.1 821.0,707.9 821.5,714.0 822.0,719.1 822.5,723.3 823.0,726.4 823.5,728.3 824.0,729.0 824.5,729.0 825.0,728.9 825.5,728.9 826.0,728.8 826.5,728.6 827.0,728.5 827.5,728.4 828.0,728.2 828.5,728.1 829.0,727.9 829.5,727.8 830.0,727.7 830.5,727.6 831.0,727.5 831.5,727.4 832.0,727.4 832.5,727.5 833.0,727.9 833.5,728.5 834.0,729.5 834.5,730.6 835.0,731.9 835.5,733.5 836.0,735.1 836.5,737.0 837.0,738.9 837.5,740.9 838.0,743.0 838.5,745.1 839.0,747.2 839.5,749.4 840.0,751.5 840.5,753.5 841.0,755.5 841.5,757.4 842.0,759.1 842.5,760.8 843.0,762.2 843.5,763.5 844.0,764.5 844.5,765.3 845.0,765.9 845.5,766.2 846.0,765.9 846.5,764.1 847.0,760.7 847.5,755.9 848.0,749.7 848.5,742.4 849.0,733.9 849.5,724.4 850.0,714.1 850.5,703.0 851.0,691.2 851.5,678.9 852.0,666.2 852.5,653.1 853.0,639.8 853.5,626.4 854.0,613.0 854.5,599.8 855.0,586.8 855.5,574.1 856.0,561.9 856.5,550.2 857.0,539.3 857.5,529.1 858.0,519.8 858.5,511.6 859.0,504.5 859.5,498.6 860.0,494.0 860.5,490.9 861.0,489.4 861.5,489.6 862.0,491.7 862.5,495.5 863.0,500.8 863.5,507.5 864.0,515.6 864.5,524.8 865.0,535.0 865.5,546.0 866.0,557.8 866.5,570.1 867.0,582.9 867.5,596.0 868.0,609.2 868.5,622.3 869.0,635.4 869.5,648.2 870.0,660.5 870.5,672.3 871.0,683.3 871.5,693.5 872.0,702.7 872.5,710.8 873.0,717.5 873.5,722.8 874.0,726.6 874.5,728.7 875.0,728.9 875.5,727.5 876.0,724.6 876.5,720.5 877.0,715.1 877.5,708.7 878.0,701.4 878.5,693.3 879.0,684.6 879.5,675.3 880.0,665.6 880.5,655.7 881.0,645.6 881.5,635.5 882.0,625.6 882.5,615.9 883.0,606.6 883.5,597.9 884.0,589.8 884.5,582.5 885.0,576.1 885.5,570.7 886.0,566.6 886.5,563.7 887.0,562.3 887.5,562.3 888.0,563.1 888.5,564.6 889.0,566.7 889.5,569.3 890.0,572.4 890.5,575.9 891.0,579.8 891.5,584.0 892.0,588.5 892.5,593.2 893.0,598.0 893.5,602.8 894.0,607.7 894.5,612.6 895.0,617.3 895.5,621.9 896.0,626.3 896.5,630.4 897.0,634.1 897.5,637.5 898.0,640.4 898.5,642.8 899.0,644.7 899.5,645.9 900.0,646.4 900.5,646.3 901.0,645.8 901.5,645.0 902.0,643.8 902.5,642.5 903.0,640.9 903.5,639.1 904.0,637.2 904.5,635.2 905.0,633.1 905.5,631.0 906.0,628.9 906.5,626.9 907.0,625.0 907.5,623.2 908.0,621.5 908.5,620.1 909.0,618.9 909.5,618.1 910.0,617.5 910.5,617.3 911.0,617.4 911.5,617.6 912.0,618.0 912.5,618.4 913.0,619.0 913.5,619.6 914.0,620.2 914.5,620.9 915.0,621.5 915.5,622.1 916.0,622.7 916.5,623.1 917.0,623.4 917.5,623.6 918.0,623.7 918.5,622.8 919.0,620.7 919.5,617.6 920.0,613.4 920.5,608.5 921.0,602.8 921.5,596.4 922.0,589.5 922.5,582.3 923.0,574.7 923.5,566.9 924.0,559.0 924.5,551.1 925.0,543.4 925.5,535.9 926.0,528.8 926.5,522.1 927.0,516.0 927.5,510.5 928.0,505.9 928.5,502.2 929.0,499.4 929.5,497.8 930.0,497.4 930.5,499.0 931.0,502.7 931.5,508.3 932.0,515.6 932.5,524.4 933.0,534.6 933.5,546.0 934.0,558.3 934.5,571.4 935.0,585.0 935.5,599.1 936.0,613.4 936.5,627.7 937.0,641.8 937.5,655.6 938.0,668.8 938.5,681.2 939.0,692.8 939.5,703.2 940.0,712.4 940.5,720.0 941.0,725.9 941.5,730.0 942.0,732.0 942.5,732.1 943.0,731.7 943.5,730.8 944.0,729.6 944.5,728.0 945.0,726.2 945.5,724.1 946.0,721.7 946.5,719.2 947.0,716.5 947.5,713.7 948.0,710.7 948.5,707.7 949.0,704.7 949.5,701.7 950.0,698.7 950.5,695.7 951.0,692.9 951.5,690.2 952.0,687.7 952.5,685.3 953.0,683.2 953.5,681.4 954.0,679.8 954.5,678.6 955.0,677.7 955.5,677.3 956.0,677.2 956.5,677.7 957.0,678.5 957.5,679.7 958.0,681.3 958.5,683.2 959.0,685.3 959.5,687.7 960.0,690.3 960.5,693.0 961.0,695.9 961.5,698.8 962.0,701.7 962.5,704.7 963.0,707.6 963.5,710.4 964.0,713.1 964.5,715.7 965.0,718.0 965.5,720.1 966.0,721.9 966.5,723.5 967.0,724.6 967.5,725.4 968.0,725.7 968.5,725.6 969.0,725.4 969.5,725.1 970.0,724.5 970.5,723.9 971.0,723.1 971.5,722.1 972.0,721.1 972.5,719.9 973.0,718.6 973.5,717.1 974.0,715.6 974.5,714.0 975.0,712.2 975.5,710.4 976.0,708.5 976.5,706.5 977.0,704.4 977.5,702.3 978.0,700.1 978.5,697.8 979.0,695.5 979.5,693.1 980.0,690.7 980.5,688.3 981.0,685.8 981.5,683.3 982.0,680.8 982.5,678.2 983.0,675.7 983.5,673.1 984.0,670.5 984.5,668.0 985.0,665.4 985.5,662.9 986.0,660.4 986.5,657.9 987.0,655.5 987.5,653.1 988.0,650.7 988.5,648.4 989.0,646.1 989.5,643.9 990.0,641.8 990.5,639.7 991.0,637.7 991.5,635.8 992.0,634.0 992.5,632.2 993.0,630.6 993.5,629.1 994.0,627.6 994.5,626.3 995.0,625.1 995.5,624.1 996.0,623.1 996.5,622.3 997.0,621.7 997.5,621.1 998.0,620.8 998.5,620.6 999.0,620.5 999.5,620.7 1000.0,621.0 1000.5,621.5 1001.0,622.2 1001.5,623.1 1002.0,624.2 1002.5,625.3 1003.0,626.6 1003.5,628.1 1004.0,629.6 1004.5,631.3 1005.0,633.0 1005.5,634.8 1006.0,636.7 1006.5,638.7 1007.0,640.7 1007.5,642.7 1008.0,644.7 1008.5,646.8 1009.0,648.9 1009.5,650.9 1010.0,652.9 1010.5,654.9 1011.0,656.9 1011.5,658.8 1012.0,660.7 1012.5,662.4 1013.0,664.1 1013.5,665.7 1014.0,667.2 1014.5,668.6 1015.0,669.8 1015.5,670.9 1016.0,671.8 1016.5,672.6 1017.0,673.2 1017.5,673.6 1018.0,673.9 1018.5,673.9 1019.0,673.5 1019.5,672.7 1020.0,671.6 1020.5,670.2 1021.0,668.5 1021.5,666.5 1022.0,664.3 1022.5,661.9 1023.0,659.4 1023.5,656.7 1024.0,653.9 1024.5,651.0 1025.0,648.1 1025.5,645.2 1026.0,642.3 1026.5,639.4 1027.0,636.6 1027.5,634.0 1028.0,631.5 1028.5,629.2 1029.0,627.1 1029.5,625.2 1030.0,623.6 1030.5,622.3 1031.0,621.3 1031.5,620.7 1032.0,620.5 1032.5,620.7 1033.0,621.5 1033.5,622.6 1034.0,624.2 1034.5,626.0 1035.0,628.2 1035.5,630.7 1036.0,633.4 1036.5,636.2 1037.0,639.2 1037.5,642.3 1038.0,645.5 1038.5,648.6 1039.0,651.7 1039.5,654.8 1040.0,657.7 1040.5,660.5 1041.0,663.1 1041.5,665.5 1042.0,667.5 1042.5,669.3 1043.0,670.7 1043.5,671.7 1044.0,672.2 1044.5,672.3 1045.0,671.9 1045.5,671.1 1046.0,669.9 1046.5,668.3 1047.0,666.4 1047.5,664.2 1048.0,661.7 1048.5,659.0 1049.0,656.0 1049.5,652.8 1050.0,649.5 1050.5,645.9 1051.0,642.3 1051.5,638.6 1052.0,634.8 1052.5,630.9 1053.0,627.0 1053.5,623.2 1054.0,619.3 1054.5,615.5 1055.0,611.8 1055.5,608.2 1056.0,604.8 1056.5,601.5 1057.0,598.4 1057.5,595.5 1058.0,592.9 1058.5,590.5 1059.0,588.4 1059.5,586.6 1060.0,585.2 1060.5,584.2 1061.0,583.5 1061.5,583.3 1062.0,583.6 1062.5,584.4 1063.0,585.8 1063.5,587.6 1064.0,589.9 1064.5,592.6 1065.0,595.7 1065.5,599.2 1066.0,603.0 1066.5,607.1 1067.0,611.4 1067.5,616.0 1068.0,620.8 1068.5,625.8 1069.0,630.9 1069.5,636.1 1070.0,641.4 1070.5,646.7 1071.0,652.1 1071.5,657.4 1072.0,662.7 1072.5,667.8 1073.0,672.9 1073.5,677.9 1074.0,682.6 1074.5,687.2 1075.0,691.5 1075.5,695.5 1076.0,699.2 1076.5,702.6 1077.0,705.7 1077.5,708.3 1078.0,710.5 1078.5,712.2 1079.0,713.5 1079.5,714.2 1080.0,714.4 1080.5,714.3 1081.0,714.1 1081.5,713.8 1082.0,713.4 1082.5,713.0 1083.0,712.4 1083.5,711.9 1084.0,711.3 1084.5,710.7 1085.0,710.0 1085.5,709.4 1086.0,708.8 1086.5,708.3 1087.0,707.7 1087.5,707.3 1088.0,706.9 1088.5,706.6 1089.0,706.4 1089.5,706.3 1090.0,706.4 1090.5,706.6 1091.0,706.9 1091.5,707.4 1092.0,707.9 1092.5,708.3 1093.0,708.8 1093.5,709.2 1094.0,709.4 1094.5,709.5 1095.0,708.9 1095.5,707.1 1096.0,704.2 1096.5,700.4 1097.0,695.7 1097.5,690.2 1098.0,684.0 1098.5,677.3 1099.0,670.1 1099.5,662.4 1100.0,654.5 1100.5,646.5 1101.0,638.3 1101.5,630.1 1102.0,622.1 1102.5,614.2 1103.0,606.7 1103.5,599.5 1104.0,592.9 1104.5,586.8 1105.0,581.5 1105.5,577.0 1106.0,573.3 1106.5,570.7 1107.0,569.1 1107.5,568.7 1108.0,569.5 1108.5,571.3 1109.0,574.1 1109.5,577.7 1110.0,582.1 1110.5,587.3 1111.0,593.1 1111.5,599.5 1112.0,606.4 1112.5,613.7 1113.0,621.4 1113.5,629.3 1114.0,637.4 1114.5,645.6 1115.0,653.8 1115.5,662.0 1116.0,670.0 1116.5,677.9 1117.0,685.5 1117.5,692.7 1118.0,699.5 1118.5,705.8 1119.0,711.5 1119.5,716.5 1120.0,720.8 1120.5,724.3 1121.0,726.8 1121.5,728.4 1122.0,729.0 1122.5,728.6 1123.0,727.3 1123.5,725.4 1124.0,722.7 1124.5,719.4 1125.0,715.5 1125.5,711.2 1126.0,706.3 1126.5,701.1 1127.0,695.6 1127.5,689.8 1128.0,683.7 1128.5,677.5 1129.0,671.2 1129.5,664.9 1130.0,658.6 1130.5,652.4 1131.0,646.3 1131.5,640.5 1132.0,634.9 1132.5,629.6 1133.0,624.7 1133.5,620.2 1134.0,616.2 1134.5,612.8 1135.0,610.0 1135.5,607.9 1136.0,606.5 1136.5,605.9 1137.0,606.1 1137.5,606.9 1138.0,608.3 1138.5,610.3 1139.0,612.7 1139.5,615.6 1140.0,619.0 1140.5,622.7 1141.0,626.7 1141.5,631.1 1142.0,635.7 1142.5,640.6 1143.0,645.6 1143.5,650.7 1144.0,656.0 1144.5,661.3 1145.0,666.6 1145.5,671.9 1146.0,677.1 1146.5,682.3 1147.0,687.2 1147.5,692.0 1148.0,696.6 1148.5,700.9 1149.0,704.9 1149.5,708.5 1150.0,711.8 1150.5,714.6 1151.0,717.0 1151.5,718.8 1152.0,720.1 1152.5,720.8 1153.0,720.9 1153.5,720.6 1154.0,719.9 1154.5,719.1 1155.0,717.9 1155.5,716.6 1156.0,715.1 1156.5,713.5 1157.0,711.8 1157.5,710.1 1158.0,708.3 1158.5,706.6 1159.0,704.9 1159.5,703.4 1160.0,701.9 1160.5,700.7 1161.0,699.7 1161.5,698.9 1162.0,698.4 1162.5,698.2 1163.0,698.4 1163.5,698.9 1164.0,699.8 1164.5,700.9 1165.0,702.3 1165.5,704.0 1166.0,705.8 1166.5,707.8 1167.0,710.0 1167.5,712.3 1168.0,714.6 1168.5,717.1 1169.0,719.5 1169.5,721.9 1170.0,724.3 1170.5,726.7 1171.0,728.9 1171.5,731.1 1172.0,733.1 1172.5,734.9 1173.0,736.5 1173.5,737.8 1174.0,738.9 1174.5,739.7 1175.0,740.2 1175.5,740.3 1176.0,739.5 1176.5,737.6 1177.0,734.7 1177.5,731.0 1178.0,726.5 1178.5,721.3 1179.0,715.5 1179.5,709.2 1180.0,702.6 1180.5,695.6 1181.0,688.4 1181.5,681.1 1182.0,673.8 1182.5,666.6 1183.0,659.6 1183.5,652.9 1184.0,646.5 1184.5,640.6 1185.0,635.3 1185.5,630.6 1186.0,626.7 1186.5,623.7 1187.0,621.6 1187.5,620.6 1188.0,620.8 1188.5,622.3 1189.0,625.3 1189.5,629.5 1190.0,634.8 1190.5,641.3 1191.0,648.7 1191.5,657.0 1192.0,666.2 1192.5,676.1 1193.0,686.6 1193.5,697.7 1194.0,709.3 1194.5,721.2 1195.0,733.4 1195.5,745.8 1196.0,758.4 1196.5,770.9 1197.0,783.5 1197.5,795.8 1198.0,807.9 1198.5,819.7 1199.0,831.1 1199.5,842.0 1200.0,852.3 1200.5,861.9 1201.0,870.7 1201.5,878.7 1202.0,885.7 1202.5,891.8 1203.0,896.7 1203.5,900.4 1204.0,902.8 1204.5,903.8 1205.0,903.2 1205.5,901.1 1206.0,897.3 1206.5,892.1 1207.0,885.5 1207.5,877.7 1208.0,868.7 1208.5,858.7 1209.0,847.7 1209.5,835.9 1210.0,823.4 1210.5,810.2 1211.0,796.5 1211.5,782.4 1212.0,768.0 1212.5,753.4 1213.0,738.6 1213.5,723.9 1214.0,709.3 1214.5,694.9 1215.0,680.8 1215.5,667.1 1216.0,653.9 1216.5,641.4 1217.0,629.6 1217.5,618.6 1218.0,608.6 1218.5,599.6 1219.0,591.8 1219.5,585.2 1220.0,580.0 1220.5,576.2 1221.0,574.1 1221.5,573.5 1222.0,574.5 1222.5,576.8 1223.0,580.3 1223.5,584.7 1224.0,589.9 1224.5,595.7 1225.0,602.1 1225.5,608.7 1226.0,615.5 1226.5,622.3 1227.0,628.8 1227.5,635.1 1228.0,640.8 1228.5,645.9 1229.0,650.1 1229.5,653.3 1230.0,655.4 1230.5,656.1 1231.0,656.0 1231.5,655.7 1232.0,655.2 1232.5,654.5 1233.0,653.7 1233.5,652.8 1234.0,651.7 1234.5,650.5 1235.0,649.3 1235.5,648.0 1236.0,646.6 1236.5,645.2 1237.0,643.8 1237.5,642.4 1238.0,641.0 1238.5,639.7 1239.0,638.4 1239.5,637.1 1240.0,636.0 1240.5,634.9 1241.0,634.0 1241.5,633.2 1242.0,632.6 1242.5,632.1 1243.0,631.9 1243.5,631.8 1244.0,632.0 1244.5,632.3 1245.0,632.8 1245.5,633.5 1246.0,634.4 1246.5,635.4 1247.0,636.5 1247.5,637.7 1248.0,639.0 1248.5,640.4 1249.0,641.9 1249.5,643.4 1250.0,645.0 1250.5,646.6 1251.0,648.1 1251.5,649.7 1252.0,651.3 1252.5,652.8 1253.0,654.2 1253.5,655.6 1254.0,656.9 1254.5,658.1 1255.0,659.2 1255.5,660.2 1256.0,661.0 1256.5,661.7 1257.0,662.2 1257.5,662.5 1258.0,662.6 1258.5,662.1 1259.0,660.8 1259.5,658.8 1260.0,656.2 1260.5,653.2 1261.0,650.0 1261.5,646.7 1262.0,643.4 1262.5,640.4 1263.0,637.7 1263.5,635.6 1264.0,634.1 1264.5,633.4 1265.0,633.7 1265.5,634.9 1266.0,637.0 1266.5,639.7 1267.0,643.1 1267.5,647.0 1268.0,651.3 1268.5,655.8 1269.0,660.6 1269.5,665.5 1270.0,670.4 1270.5,675.1 1271.0,679.6 1271.5,683.8 1272.0,687.6 1272.5,690.9 1273.0,693.5 1273.5,695.4 1274.0,696.4 1274.5,696.5 1275.0,695.3 1275.5,693.0 1276.0,689.6 1276.5,685.2 1277.0,680.0 1277.5,674.2 1278.0,667.7 1278.5,660.7 1279.0,653.5 1279.5,646.0 1280.0,638.3 1280.5,630.7 1281.0,623.3 1281.5,616.0 1282.0,609.2 1282.5,602.8 1283.0,597.1 1283.5,592.0 1284.0,587.9 1284.5,584.7 1285.0,582.5 1285.5,581.6 1286.0,581.7 1286.5,582.3 1287.0,583.3 1287.5,584.5 1288.0,586.1 1288.5,587.8 1289.0,589.6 1289.5,591.6 1290.0,593.5 1290.5,595.4 1291.0,597.2 1291.5,598.9 1292.0,600.3 1292.5,601.4 1293.0,602.3 1293.5,602.7 1294.0,602.6 1294.5,602.0 1295.0,600.8 1295.5,599.2 1296.0,597.2 1296.5,594.9 1297.0,592.2 1297.5,589.3 1298.0,586.2 1298.5,582.9 1299.0,579.5 1299.5,576.1 1300.0,572.7 1300.5,569.4 1301.0,566.2 1301.5,563.1 1302.0,560.3 1302.5,557.8 1303.0,555.5 1303.5,553.7 1304.0,552.3 1304.5,551.3 1305.0,550.9 1305.5,551.4 1306.0,553.3 1306.5,556.6 1307.0,560.9 1307.5,566.3 1308.0,572.5 1308.5,579.3 1309.0,586.5 1309.5,594.1 1310.0,601.9 1310.5,609.6 1311.0,617.1 1311.5,624.3 1312.0,631.0 1312.5,637.0 1313.0,642.2 1313.5,646.4 1314.0,649.4 1314.5,651.0 1315.0,651.2 1315.5,649.7 1316.0,646.6 1316.5,642.1 1317.0,636.4 1317.5,629.5 1318.0,621.6 1318.5,612.8 1319.0,603.3 1319.5,593.2 1320.0,582.6 1320.5,571.7 1321.0,560.5 1321.5,549.4 1322.0,538.2 1322.5,527.3 1323.0,516.7 1323.5,506.6 1324.0,497.1 1324.5,488.3 1325.0,480.4 1325.5,473.5 1326.0,467.8 1326.5,463.3 1327.0,460.2 1327.5,458.7 1328.0,458.9 1328.5,461.0 1329.0,464.8 1329.5,470.1 1330.0,476.8 1330.5,484.8 1331.0,494.0 1331.5,504.0 1332.0,514.9 1332.5,526.5 1333.0,538.6 1333.5,551.0 1334.0,563.6 1334.5,576.3 1335.0,588.9 1335.5,601.3 1336.0,613.3 1336.5,624.7 1337.0,635.4 1337.5,645.3 1338.0,654.2 1338.5,662.0 1339.0,668.5 1339.5,673.5 1340.0,677.0 1340.5,678.6 1341.0,678.7 1341.5,678.1 1342.0,677.0 1342.5,675.5 1343.0,673.6 1343.5,671.3 1344.0,668.8 1344.5,666.0 1345.0,663.0 1345.5,659.9 1346.0,656.8 1346.5,653.5 1347.0,650.3 1347.5,647.2 1348.0,644.2 1348.5,641.3 1349.0,638.7 1349.5,636.3 1350.0,634.2 1350.5,632.5 1351.0,631.3 1351.5,630.5 1352.0,630.2 1352.5,630.5 1353.0,631.5 1353.5,633.1 1354.0,635.2 1354.5,637.7 1355.0,640.7 1355.5,644.1 1356.0,647.7 1356.5,651.7 1357.0,655.8 1357.5,660.2 1358.0,664.6 1358.5,669.1 1359.0,673.5 1359.5,677.9 1360.0,682.3 1360.5,686.4 1361.0,690.4 1361.5,694.0 1362.0,697.4 1362.5,700.4 1363.0,702.9 1363.5,705.0 1364.0,706.6 1364.5,707.6 1365.0,707.9 1365.5,707.7 1366.0,707.1 1366.5,706.1 1367.0,704.7 1367.5,703.0 1368.0,701.1 1368.5,698.9 1369.0,696.4 1369.5,693.8 1370.0,691.0 1370.5,688.1 1371.0,685.0 1371.5,681.9 1372.0,678.7 1372.5,675.6 1373.0,672.4 1373.5,669.3 1374.0,666.2 1374.5,663.3 1375.0,660.5 1375.5,657.9 1376.0,655.4 1376.5,653.2 1377.0,651.3 1377.5,649.6 1378.0,648.2 1378.5,647.2 1379.0,646.6 1379.5,646.4 1380.0,646.5 1380.5,647.0 1381.0,647.6 1381.5,648.5 1382.0,649.6 1382.5,650.8 1383.0,652.2 1383.5,653.6 1384.0,655.1 1384.5,656.5 1385.0,658.0 1385.5,659.5 1386.0,660.9 1386.5,662.1 1387.0,663.3 1387.5,664.2 1388.0,665.0 1388.5,665.5 1389.0,665.8 1389.5,665.5 1390.0,664.0 1390.5,661.2 1391.0,657.4 1391.5,652.8 1392.0,647.5 1392.5,641.7 1393.0,635.7 1393.5,629.5 1394.0,623.5 1394.5,617.7 1395.0,612.4 1395.5,607.8 1396.0,604.0 1396.5,601.2 1397.0,599.7 1397.5,599.5 1398.0,600.9 1398.5,603.6 1399.0,607.6 1399.5,612.7 1400.0,618.9 1400.5,626.0 1401.0,633.8 1401.5,642.4 1402.0,651.5 1402.5,661.0 1403.0,670.8 1403.5,680.8 1404.0,690.9 1404.5,700.9 1405.0,710.8 1405.5,720.4 1406.0,729.6 1406.5,738.2 1407.0,746.2 1407.5,753.5 1408.0,759.8 1408.5,765.2 1409.0,769.4 1409.5,772.4 1410.0,774.0 1410.5,774.3 1411.0,773.9 1411.5,773.2 1412.0,772.2 1412.5,770.9 1413.0,769.2 1413.5,767.2 1414.0,764.9 1414.5,762.4 1415.0,759.6 1415.5,756.5 1416.0,753.3 1416.5,749.8 1417.0,746.1 1417.5,742.1 1418.0,738.1 1418.5,733.8 1419.0,729.4 1419.5,724.9 1420.0,720.2 1420.5,715.5 1421.0,710.6 1421.5,705.6 1422.0,700.6 1422.5,695.5 1423.0,690.4 1423.5,685.3 1424.0,680.1 1424.5,675.0 1425.0,669.8 1425.5,664.7 1426.0,659.6 1426.5,654.6 1427.0,649.6 1427.5,644.7 1428.0,639.9 1428.5,635.2 1429.0,630.7 1429.5,626.2 1430.0,622.0 1430.5,617.9 1431.0,613.9 1431.5,610.2 1432.0,606.6 1432.5,603.3 1433.0,600.2 1433.5,597.3 1434.0,594.7 1434.5,592.4 1435.0,590.4 1435.5,588.7 1436.0,587.2 1436.5,586.1 1437.0,585.4 1437.5,585.0 1438.0,585.0 1438.5,586.1 1439.0,588.2 1439.5,591.4 1440.0,595.5 1440.5,600.5 1441.0,606.2 1441.5,612.6 1442.0,619.7 1442.5,627.2 1443.0,635.2 1443.5,643.5 1444.0,652.1 1444.5,660.8 1445.0,669.7 1445.5,678.6 1446.0,687.4 1446.5,696.1 1447.0,704.5 1447.5,712.7 1448.0,720.4 1448.5,727.6 1449.0,734.3 1449.5,740.3 1450.0,745.6 1450.5,750.1 1451.0,753.6 1451.5,756.2 1452.0,757.7 1452.5,758.1 1453.0,757.0 1453.5,754.6 1454.0,751.0 1454.5,746.1 1455.0,740.2 1455.5,733.3 1456.0,725.5 1456.5,717.0 1457.0,707.8 1457.5,698.1 1458.0,687.9 1458.5,677.4 1459.0,666.6 1459.5,655.6 1460.0,644.7 1460.5,633.8 1461.0,623.0 1461.5,612.5 1462.0,602.4 1462.5,592.8 1463.0,583.7 1463.5,575.4 1464.0,567.8 1464.5,561.1 1465.0,555.3 1465.5,550.7 1466.0,547.3 1466.5,545.1 1467.0,544.4 1467.5,545.1 1468.0,547.2 1468.5,550.6 1469.0,555.0 1469.5,560.5 1470.0,566.7 1470.5,573.7 1471.0,581.2 1471.5,589.2 1472.0,597.5 1472.5,606.0 1473.0,614.5 1473.5,622.9 1474.0,631.1 1474.5,638.9 1475.0,646.3 1475.5,653.0 1476.0,658.9 1476.5,664.0 1477.0,668.0 1477.5,670.9 1478.0,672.4 1478.5,672.6 1479.0,672.0 1479.5,670.7 1480.0,668.9 1480.5,666.5 1481.0,663.7 1481.5,660.5 1482.0,656.9 1482.5,653.2 1483.0,649.2 1483.5,645.1 1484.0,640.9 1484.5,636.8 1485.0,632.7 1485.5,628.8 1486.0,625.0 1486.5,621.6 1487.0,618.4 1487.5,615.7 1488.0,613.4 1488.5,611.7 1489.0,610.5 1489.5,610.0 1490.0,610.5 1490.5,612.6 1491.0,616.2 1491.5,621.1 1492.0,627.2 1492.5,634.4 1493.0,642.6 1493.5,651.6 1494.0,661.4 1494.5,671.8 1495.0,682.6 1495.5,693.8 1496.0,705.3 1496.5,716.8 1497.0,728.3 1497.5,739.8 1498.0,750.9 1498.5,761.7 1499.0,771.9 1499.5,781.5 1500.0,790.4 1500.5,798.4 1501.0,805.4 1501.5,811.3 1502.0,816.0 1502.5,819.2 1503.0,821.0 1503.5,821.2 1504.0,820.5 1504.5,819.0 1505.0,816.8 1505.5,813.9 1506.0,810.5 1506.5,806.5 1507.0,802.1 1507.5,797.2 1508.0,791.9 1508.5,786.3 1509.0,780.5 1509.5,774.5 1510.0,768.3 1510.5,762.1 1511.0,755.8 1511.5,749.6 1512.0,743.4 1512.5,737.4 1513.0,731.6 1513.5,726.0 1514.0,720.7 1514.5,715.8 1515.0,711.4 1515.5,707.4 1516.0,704.0 1516.5,701.1 1517.0,698.9 1517.5,697.4 1518.0,696.7 1518.5,696.6 1519.0,696.9 1519.5,697.4 1520.0,698.1 1520.5,698.9 1521.0,699.9 1521.5,700.9 1522.0,702.1 1522.5,703.3 1523.0,704.6 1523.5,705.8 1524.0,707.0 1524.5,708.2 1525.0,709.3 1525.5,710.3 1526.0,711.2 1526.5,711.9 1527.0,712.4 1527.5,712.7 1528.0,712.8 1528.5,712.8 1529.0,712.7 1529.5,712.6 1530.0,712.5 1530.5,712.4 1531.0,712.3 1531.5,712.1 1532.0,711.9 1532.5,711.6 1533.0,711.4 1533.5,711.1 1534.0,710.9 1534.5,710.6 1535.0,710.2 1535.5,709.9 1536.0,709.6 1536.5,709.2 1537.0,708.9 1537.5,708.5 1538.0,708.1 1538.5,707.7 1539.0,707.1 1539.5,706.3 1540.0,705.2 1540.5,703.9 1541.0,702.4 1541.5,700.6 1542.0,698.7 1542.5,696.6 1543.0,694.3 1543.5,691.9 1544.0,689.3 1544.5,686.5 1545.0,683.6 1545.5,680.6 1546.0,677.4 1546.5,674.2 1547.0,670.8 1547.5,667.3 1548.0,663.8 1548.5,660.1 1549.0,656.5 1549.5,652.7 1550.0,648.9 1550.5,645.1 1551.0,641.2 1551.5,637.3 1552.0,633.4 1552.5,629.5 1553.0,625.6 1553.5,621.7 1554.0,617.8 1554.5,614.0 1555.0,610.2 1555.5,606.4 1556.0,602.8 1556.5,599.1 1557.0,595.6 1557.5,592.2 1558.0,588.8 1558.5,585.6 1559.0,582.5 1559.5,579.5 1560.0,576.6 1560.5,573.9 1561.0,571.3 1561.5,568.9 1562.0,566.7 1562.5,564.6 1563.0,562.8 1563.5,561.1 1564.0,559.6 1564.5,558.4 1565.0,557.4 1565.5,556.6 1566.0,556.0 1566.5,555.7 1567.0,555.7 1567.5,556.1 1568.0,556.7 1568.5,557.7 1569.0,559.1 1569.5,560.7 1570.0,562.6 1570.5,564.8 1571.0,567.2 1571.5,569.9 1572.0,572.8 1572.5,576.0 1573.0,579.3 1573.5,582.8 1574.0,586.5 1574.5,590.4 1575.0,594.3 1575.5,598.5 1576.0,602.7 1576.5,607.0 1577.0,611.4 1577.5,615.9 1578.0,620.4 1578.5,624.9 1579.0,629.5 1579.5,634.1 1580.0,638.7 1580.5,643.2 1581.0,647.7 1581.5,652.2 1582.0,656.6 1582.5,660.9 1583.0,665.1 1583.5,669.3 1584.0,673.2 1584.5,677.1 1585.0,680.8 1585.5,684.3 1586.0,687.6 1586.5,690.8 1587.0,693.7 1587.5,696.4 1588.0,698.8 1588.5,701.0 1589.0,702.9 1589.5,704.5 1590.0,705.9 1590.5,706.9 1591.0,707.5 1591.5,707.9 1592.0,707.8 1592.5,707.2 1593.0,706.1 1593.5,704.5 1594.0,702.5 1594.5,700.1 1595.0,697.4 1595.5,694.3 1596.0,691.0 1596.5,687.4 1597.0,683.7 1597.5,679.7 1598.0,675.7 1598.5,671.6 1599.0,667.5 1599.5,663.3 1600.0,659.2 1600.5,655.2 1601.0,651.2 1601.5,647.5 1602.0,643.9 1602.5,640.6 1603.0,637.5 1603.5,634.8 1604.0,632.4 1604.5,630.4 1605.0,628.8 1605.5,627.7 1606.0,627.1 1606.5,627.0 1607.0,627.6 1607.5,628.6 1608.0,630.2 1608.5,632.2 1609.0,634.7 1609.5,637.6 1610.0,641.0 1610.5,644.7 1611.0,648.7 1611.5,653.1 1612.0,657.8 1612.5,662.7 1613.0,667.9 1613.5,673.2 1614.0,678.8 1614.5,684.5 1615.0,690.4 1615.5,696.3 1616.0,702.3 1616.5,708.4 1617.0,714.4 1617.5,720.5 1618.0,726.5 1618.5,732.5 1619.0,738.3 1619.5,744.1 1620.0,749.7 1620.5,755.1 1621.0,760.3 1621.5,765.3 1622.0,770.0 1622.5,774.4 1623.0,778.5 1623.5,782.3 1624.0,785.7 1624.5,788.7 1625.0,791.3 1625.5,793.5 1626.0,795.1 1626.5,796.3 1627.0,796.9 1627.5,796.9 1628.0,796.0 1628.5,794.2 1629.0,791.4 1629.5,787.8 1630.0,783.5 1630.5,778.4 1631.0,772.7 1631.5,766.3 1632.0,759.5 1632.5,752.1 1633.0,744.3 1633.5,736.1 1634.0,727.6 1634.5,718.9 1635.0,709.9 1635.5,700.8 1636.0,691.6 1636.5,682.4 1637.0,673.2 1637.5,664.1 1638.0,655.1 1638.5,646.4 1639.0,637.9 1639.5,629.7 1640.0,621.9 1640.5,614.5 1641.0,607.7 1641.5,601.3 1642.0,595.6 1642.5,590.5 1643.0,586.2 1643.5,582.6 1644.0,579.8 1644.5,578.0 1645.0,577.1 1645.5,577.1 1646.0,577.5 1646.5,578.3 1647.0,579.4 1647.5,580.9 1648.0,582.5 1648.5,584.4 1649.0,586.5 1649.5,588.7 1650.0,591.0 1650.5,593.3 1651.0,595.7 1651.5,598.1 1652.0,600.4 1652.5,602.7 1653.0,604.8 1653.5,606.7 1654.0,608.5 1654.5,610.0 1655.0,611.3 1655.5,612.2 1656.0,612.8 1656.5,613.0 1657.0,612.7 1657.5,611.8 1658.0,610.2 1658.5,608.2 1659.0,605.7 1659.5,602.7 1660.0,599.3 1660.5,595.5 1661.0,591.3 1661.5,586.9 1662.0,582.1 1662.5,577.2 1663.0,572.1 1663.5,566.8 1664.0,561.4 1664.5,555.9 1665.0,550.4 1665.5,544.8 1666.0,539.3 1666.5,533.9 1667.0,528.6 1667.5,523.5 1668.0,518.6 1668.5,513.8 1669.0,509.4 1669.5,505.2 1670.0,501.4 1670.5,498.0 1671.0,495.0 1671.5,492.5 1672.0,490.5 1672.5,488.9 1673.0,488.0 1673.5,487.7 1674.0,488.2 1674.5,489.6 1675.0,492.0 1675.5,495.1 1676.0,499.0 1676.5,503.7 1677.0,508.9 1677.5,514.8 1678.0,521.2 1678.5,528.0 1679.0,535.3 1679.5,542.9 1680.0,550.8 1680.5,558.9 1681.0,567.2 1681.5,575.6 1682.0,584.0 1682.5,592.5 1683.0,600.8 1683.5,609.1 1684.0,617.1 1684.5,624.9 1685.0,632.4 1685.5,639.5 1686.0,646.1 1686.5,652.3 1687.0,658.0 1687.5,663.0 1688.0,667.3 1688.5,670.9 1689.0,673.8 1689.5,675.8 1690.0,676.8 1690.5,677.0 1691.0,676.9 1691.5,676.6 1692.0,676.3 1692.5,675.8 1693.0,675.3 1693.5,674.6 1694.0,673.9 1694.5,673.0 1695.0,672.1 1695.5,671.0 1696.0,669.9 1696.5,668.7 1697.0,667.5 1697.5,666.1 1698.0,664.8 1698.5,663.3 1699.0,661.8 1699.5,660.3 1700.0,658.7 1700.5,657.0 1701.0,655.3 1701.5,653.6 1702.0,651.9 1702.5,650.2 1703.0,648.4 1703.5,646.6 1704.0,644.8 1704.5,643.0 1705.0,641.2 1705.5,639.4 1706.0,637.6 1706.5,635.8 1707.0,634.0 1707.5,632.2 1708.0,630.5 1708.5,628.8 1709.0,627.1 1709.5,625.5 1710.0,623.9 1710.5,622.4 1711.0,620.9 1711.5,619.5 1712.0,618.1 1712.5,616.8 1713.0,615.5 1713.5,614.4 1714.0,613.3 1714.5,612.3 1715.0,611.3 1715.5,610.5 1716.0,609.7 1716.5,609.1 1717.0,608.6 1717.5,608.1 1718.0,607.8 1718.5,607.6 1719.0,607.5 1719.5,607.7 1720.0,608.4 1720.5,609.5 1721.0,611.2 1721.5,613.2 1722.0,615.6 1722.5,618.3 1723.0,621.4 1723.5,624.7 1724.0,628.2 1724.5,631.9 1725.0,635.8 1725.5,639.8 1726.0,643.8 1726.5,647.9 1727.0,652.0 1727.5,656.0 1728.0,660.0 1728.5,663.9 1729.0,667.6 1729.5,671.1 1730.0,674.4 1730.5,677.5 1731.0,680.2 1731.5,682.6 1732.0,684.6 1732.5,686.3 1733.0,687.4 1733.5,688.1 1734.0,688.3 1734.5,687.9 1735.0,686.9 1735.5,685.4 1736.0,683.4 1736.5,681.1 1737.0,678.5 1737.5,675.6 1738.0,672.5 1738.5,669.3 1739.0,666.0 1739.5,662.7 1740.0,659.5 1740.5,656.3 1741.0,653.4 1741.5,650.7 1742.0,648.3 1742.5,646.3 1743.0,644.7 1743.5,643.6 1744.0,643.1 1744.5,643.1 1745.0,643.9 1745.5,645.2 1746.0,647.0 1746.5,649.3 1747.0,651.8 1747.5,654.6 1748.0,657.6 1748.5,660.6 1749.0,663.6 1749.5,666.5 1750.0,669.2 1750.5,671.7 1751.0,673.8 1751.5,675.4 1752.0,676.5 1752.5,677.0 1753.0,676.9 1753.5,676.7 1754.0,676.4 1754.5,675.9 1755.0,675.2 1755.5,674.4 1756.0,673.5 1756.5,672.4 1757.0,671.3 1757.5,669.9 1758.0,668.5 1758.5,667.0 1759.0,665.3 1759.5,663.5 1760.0,661.6 1760.5,659.7 1761.0,657.6 1761.5,655.4 1762.0,653.2 1762.5,650.8 1763.0,648.4 1763.5,645.9 1764.0,643.4 1764.5,640.7 1765.0,638.0 1765.5,635.3 1766.0,632.5 1766.5,629.6 1767.0,626.7 1767.5,623.7 1768.0,620.7 1768.5,617.7 1769.0,614.7 1769.5,611.6 1770.0,608.5 1770.5,605.3 1771.0,602.2 1771.5,599.0 1772.0,595.9 1772.5,592.7 1773.0,589.5 1773.5,586.4 1774.0,583.2 1774.5,580.1 1775.0,577.0 1775.5,573.9 1776.0,570.8 1776.5,567.8 1777.0,564.8 1777.5,561.8 1778.0,558.9 1778.5,556.0 1779.0,553.1 1779.5,550.4 1780.0,547.6 1780.5,545.0 1781.0,542.4 1781.5,539.9 1782.0,537.4 1782.5,535.1 1783.0,532.8 1783.5,530.6 1784.0,528.5 1784.5,526.4 1785.0,524.5 1785.5,522.7 1786.0,521.0 1786.5,519.4 1787.0,517.9 1787.5,516.6 1788.0,515.3 1788.5,514.2 1789.0,513.2 1789.5,512.4 1790.0,511.7 1790.5,511.1 1791.0,510.7 1791.5,510.4 1792.0,510.3 1792.5,510.6 1793.0,511.8 1793.5,513.9 1794.0,516.8 1794.5,520.5 1795.0,524.8 1795.5,529.8 1796.0,535.3 1796.5,541.4 1797.0,547.9 1797.5,554.8 1798.0,562.0 1798.5,569.5 1799.0,577.1 1799.5,585.0 1800.0,592.9 1800.5,600.8 1801.0,608.7 1801.5,616.5 1802.0,624.2 1802.5,631.6 1803.0,638.7 1803.5,645.6 1804.0,652.0 1804.5,657.9 1805.0,663.4 1805.5,668.2 1806.0,672.4 1806.5,675.9 1807.0,678.7 1807.5,680.6 1808.0,681.6 1808.5,681.5 1809.0,677.6 1809.5,670.0 1810.0,658.8 1810.5,644.5 1811.0,627.6 1811.5,608.3 1812.0,587.2 1812.5,564.5 1813.0,540.8 1813.5,516.3 1814.0,491.4 1814.5,466.7 1814.8,452.0" fill="none" stroke="#f00" stroke-width="9" stroke-linejoin="round"/>
<g fill="#000"><circle cx="147.6" cy="921.6" r="6"/><circle cx="185.2" cy="927.7" r="6"/><circle cx="197.4" cy="928.2" r="6"/><circle cx="228.3" cy="914.4" r="6"/><circle cx="227.0" cy="979.8" r="6"/><circle cx="250.8" cy="887.2" r="6"/><circle cx="252.1" cy="937.5" r="6"/><circle cx="293.7" cy="873.2" r="6"/><circle cx="309.0" cy="934.8" r="6"/><circle cx="279.9" cy="1001.5" r="6"/><circle cx="190.5" cy="1012.3" r="6"/><circle cx="184.1" cy="1023.4" r="6"/><circle cx="115.1" cy="1029.5" r="6"/><circle cx="113.8" cy="1068.4" r="6"/><circle cx="291.8" cy="1061.8" r="6"/><circle cx="259.3" cy="1110.2" r="6"/><circle cx="260.8" cy="1131.4" r="6"/><circle cx="414.8" cy="919.7" r="6"/><circle cx="413.5" cy="944.9" r="6"/><circle cx="427.2" cy="972.4" r="6"/><circle cx="453.2" cy="895.7" r="6"/><circle cx="451.3" cy="908.4" r="6"/><circle cx="496.8" cy="876.6" r="6"/><circle cx="566.9" cy="895.7" r="6"/><circle cx="574.9" cy="900.4" r="6"/><circle cx="567.7" cy="949.4" r="6"/><circle cx="572.8" cy="1005.4" r="6"/><circle cx="631.0" cy="873.2" r="6"/><circle cx="645.0" cy="873.2" r="6"/><circle cx="627.8" cy="888.0" r="6"/><circle cx="629.7" cy="945.4" r="6"/><circle cx="679.4" cy="871.3" r="6"/><circle cx="723.6" cy="886.7" r="6"/><circle cx="721.7" cy="903.6" r="6"/><circle cx="750.0" cy="882.4" r="6"/><circle cx="748.2" cy="899.6" r="6"/><circle cx="705.1" cy="968.4" r="6"/><circle cx="664.1" cy="1083.8" r="6"/><circle cx="792.4" cy="877.9" r="6"/><circle cx="785.2" cy="902.5" r="6"/><circle cx="790.5" cy="940.6" r="6"/><circle cx="823.3" cy="912.3" r="6"/><circle cx="842.1" cy="977.1" r="6"/><circle cx="840.5" cy="996.5" r="6"/><circle cx="857.7" cy="875.8" r="6"/><circle cx="885.0" cy="913.7" r="6"/><circle cx="909.3" cy="872.6" r="6"/><circle cx="915.9" cy="951.2" r="6"/><circle cx="950.3" cy="923.7" r="6"/><circle cx="951.9" cy="1028.7" r="6"/><circle cx="975.7" cy="888.0" r="6"/><circle cx="974.1" cy="897.2" r="6"/><circle cx="1007.2" cy="881.4" r="6"/><circle cx="1008.0" cy="913.1" r="6"/><circle cx="1075.4" cy="980.6" r="6"/><circle cx="1125.0" cy="870.8" r="6"/><circle cx="1202.2" cy="874.0" r="6"/><circle cx="1203.8" cy="904.4" r="6"/><circle cx="1207.5" cy="916.3" r="6"/><circle cx="1209.6" cy="931.4" r="6"/><circle cx="1150.6" cy="910.2" r="6"/><circle cx="1179.7" cy="922.9" r="6"/><circle cx="1157.2" cy="950.7" r="6"/><circle cx="1177.9" cy="997.5" r="6"/><circle cx="1197.2" cy="994.9" r="6"/><circle cx="1195.1" cy="1005.4" r="6"/><circle cx="1126.8" cy="1038.5" r="6"/><circle cx="1277.6" cy="891.7" r="6"/><circle cx="1275.8" cy="902.3" r="6"/><circle cx="1314.1" cy="911.8" r="6"/><circle cx="1340.6" cy="929.5" r="6"/><circle cx="1367.0" cy="886.4" r="6"/><circle cx="1394.0" cy="901.0" r="6"/><circle cx="1409.9" cy="901.0" r="6"/><circle cx="1410.7" cy="910.5" r="6"/><circle cx="1502.0" cy="896.5" r="6"/><circle cx="1505.4" cy="938.8" r="6"/><circle cx="1510.4" cy="873.4" r="6"/><circle cx="1522.6" cy="912.9" r="6"/><circle cx="1558.8" cy="882.7" r="6"/><circle cx="1503.8" cy="1229.8" r="6"/><circle cx="1599.4" cy="912.1" r="6"/><circle cx="1598.1" cy="928.4" r="6"/><circle cx="1616.5" cy="910.2" r="6"/><circle cx="1634.2" cy="904.8" r="6"/><circle cx="1615.2" cy="978.2" r="6"/><circle cx="1632.0" cy="1030.4" r="6"/><circle cx="1681.8" cy="981.4" r="6"/><circle cx="1718.2" cy="874.1" r="6"/><circle cx="1728.5" cy="890.4" r="6"/><circle cx="1752.2" cy="1111.4" r="6"/><circle cx="164.8" cy="288.8" r="6"/><circle cx="139.2" cy="347.5" r="6"/><circle cx="175.4" cy="355.4" r="6"/><circle cx="163.5" cy="385.3" r="6"/><circle cx="231.7" cy="323.2" r="6"/><circle cx="275.9" cy="391.2" r="6"/><circle cx="288.4" cy="397.8" r="6"/><circle cx="303.7" cy="389.3" r="6"/><circle cx="344.7" cy="370.0" r="6"/><circle cx="360.0" cy="357.3" r="6"/><circle cx="471.7" cy="304.7" r="6"/><circle cx="469.8" cy="334.3" r="6"/><circle cx="485.7" cy="346.2" r="6"/><circle cx="463.2" cy="386.7" r="6"/><circle cx="596.6" cy="330.3" r="6"/><circle cx="598.5" cy="354.9" r="6"/><circle cx="595.3" cy="385.9" r="6"/><circle cx="782.3" cy="336.9" r="6"/><circle cx="864.3" cy="390.4" r="6"/><circle cx="929.4" cy="361.3" r="6"/><circle cx="920.7" cy="385.9" r="6"/><circle cx="922.0" cy="395.0" r="6"/><circle cx="1013.3" cy="385.9" r="6"/><circle cx="1066.2" cy="376.1" r="6"/><circle cx="1059.6" cy="393.0" r="6"/><circle cx="612.5" cy="397.8" r="6"/><circle cx="996.1" cy="399.1" r="6"/><circle cx="238.3" cy="414.3" r="6"/><circle cx="232.7" cy="422.4" r="6"/><circle cx="240.8" cy="430.5" r="6"/><circle cx="166.3" cy="429.6" r="6"/><circle cx="173.6" cy="434.5" r="6"/><circle cx="141.3" cy="437.7" r="6"/><circle cx="342.7" cy="431.3" r="6"/><circle cx="286.9" cy="445.0" r="6"/><circle cx="305.5" cy="453.1" r="6"/><circle cx="201.1" cy="465.7" r="6"/><circle cx="255.3" cy="465.2" r="6"/><circle cx="334.6" cy="466.9" r="6"/><circle cx="348.4" cy="458.0" r="6"/><circle cx="137.2" cy="475.0" r="6"/><circle cx="320.9" cy="483.0" r="6"/><circle cx="296.6" cy="487.1" r="6"/><circle cx="177.3" cy="490.6" r="6"/><circle cx="109.7" cy="497.6" r="6"/><circle cx="348.4" cy="497.6" r="6"/><circle cx="247.2" cy="517.8" r="6"/><circle cx="132.4" cy="520.3" r="6"/><circle cx="124.3" cy="525.9" r="6"/><circle cx="142.9" cy="529.5" r="6"/><circle cx="108.1" cy="535.6" r="6"/><circle cx="120.2" cy="539.7" r="6"/><circle cx="346.0" cy="524.3" r="6"/><circle cx="299.0" cy="533.2" r="6"/><circle cx="302.3" cy="542.1" r="6"/><circle cx="321.7" cy="536.4" r="6"/><circle cx="347.6" cy="542.1" r="6"/><circle cx="130.7" cy="549.4" r="6"/><circle cx="206.0" cy="544.5" r="6"/><circle cx="230.3" cy="550.2" r="6"/><circle cx="327.3" cy="549.4" r="6"/><circle cx="118.6" cy="562.3" r="6"/><circle cx="216.5" cy="562.3" r="6"/><circle cx="202.8" cy="568.0" r="6"/><circle cx="240.8" cy="563.1" r="6"/><circle cx="236.7" cy="568.0" r="6"/><circle cx="245.6" cy="568.0" r="6"/><circle cx="274.8" cy="568.0" r="6"/><circle cx="295.0" cy="561.5" r="6"/><circle cx="300.6" cy="582.6" r="6"/><circle cx="172.0" cy="578.5" r="6"/><circle cx="187.4" cy="579.3" r="6"/><circle cx="218.1" cy="580.1" r="6"/><circle cx="159.9" cy="585.8" r="6"/><circle cx="337.1" cy="579.3" r="6"/><circle cx="341.1" cy="591.5" r="6"/><circle cx="207.6" cy="590.6" r="6"/><circle cx="122.7" cy="595.5" r="6"/><circle cx="180.1" cy="597.1" r="6"/><circle cx="284.5" cy="598.7" r="6"/><circle cx="104.9" cy="606.8" r="6"/><circle cx="159.9" cy="609.3" r="6"/><circle cx="168.8" cy="610.9" r="6"/><circle cx="204.4" cy="610.9" r="6"/><circle cx="264.2" cy="613.3" r="6"/><circle cx="326.5" cy="619.8" r="6"/><circle cx="235.1" cy="623.8" r="6"/><circle cx="214.9" cy="627.9" r="6"/><circle cx="199.5" cy="629.5" r="6"/><circle cx="223.0" cy="633.5" r="6"/><circle cx="244.0" cy="631.1" r="6"/><circle cx="250.5" cy="635.1" r="6"/><circle cx="144.5" cy="632.7" r="6"/><circle cx="104.0" cy="632.7" r="6"/><circle cx="347.6" cy="630.3" r="6"/><circle cx="282.8" cy="637.6" r="6"/><circle cx="333.0" cy="637.6" r="6"/><circle cx="179.3" cy="638.4" r="6"/><circle cx="269.1" cy="640.0" r="6"/><circle cx="151.5" cy="643.1" r="6"/><circle cx="324.9" cy="643.1" r="6"/><circle cx="329.8" cy="648.8" r="6"/><circle cx="312.8" cy="650.4" r="6"/><circle cx="169.9" cy="652.0" r="6"/><circle cx="153.4" cy="661.7" r="6"/><circle cx="213.3" cy="657.7" r="6"/><circle cx="220.6" cy="661.7" r="6"/><circle cx="193.9" cy="666.6" r="6"/><circle cx="188.2" cy="671.4" r="6"/><circle cx="253.7" cy="660.9" r="6"/><circle cx="317.6" cy="675.5" r="6"/><circle cx="278.0" cy="684.4" r="6"/><circle cx="210.8" cy="694.1" r="6"/><circle cx="106.5" cy="699.7" r="6"/><circle cx="257.8" cy="700.5" r="6"/><circle cx="156.6" cy="707.0" r="6"/><circle cx="182.0" cy="708.6" r="6"/><circle cx="271.5" cy="711.1" r="6"/><circle cx="155.0" cy="733.7" r="6"/><circle cx="311.2" cy="737.8" r="6"/><circle cx="340.3" cy="751.5" r="6"/><circle cx="225.4" cy="756.4" r="6"/><circle cx="135.6" cy="762.0" r="6"/><circle cx="263.4" cy="767.7" r="6"/><circle cx="290.1" cy="764.4" r="6"/><circle cx="117.0" cy="774.2" r="6"/><circle cx="128.3" cy="771.7" r="6"/><circle cx="134.0" cy="775.0" r="6"/><circle cx="337.9" cy="776.6" r="6"/><circle cx="129.1" cy="786.3" r="6"/><circle cx="331.4" cy="796.8" r="6"/><circle cx="112.1" cy="816.2" r="6"/><circle cx="149.4" cy="813.8" r="6"/><circle cx="145.3" cy="819.5" r="6"/><circle cx="196.0" cy="814.3" r="6"/><circle cx="273.1" cy="806.5" r="6"/><circle cx="265.9" cy="812.2" r="6"/><circle cx="314.4" cy="807.3" r="6"/><circle cx="307.1" cy="810.6" r="6"/><circle cx="316.0" cy="828.4" r="6"/><circle cx="268.3" cy="833.7" r="6"/><circle cx="282.0" cy="832.1" r="6"/><circle cx="192.2" cy="846.7" r="6"/><circle cx="358.8" cy="410.2" r="6"/><circle cx="362.0" cy="414.3" r="6"/><circle cx="461.5" cy="409.1" r="6"/><circle cx="487.1" cy="420.4" r="6"/><circle cx="521.7" cy="438.5" r="6"/><circle cx="514.9" cy="447.4" r="6"/><circle cx="483.8" cy="445.8" r="6"/><circle cx="590.1" cy="445.3" r="6"/><circle cx="357.1" cy="466.9" r="6"/><circle cx="403.3" cy="469.3" r="6"/><circle cx="423.8" cy="468.5" r="6"/><circle cx="435.6" cy="479.8" r="6"/><circle cx="478.5" cy="469.3" r="6"/><circle cx="473.6" cy="476.6" r="6"/><circle cx="353.9" cy="497.1" r="6"/><circle cx="355.5" cy="508.9" r="6"/><circle cx="422.3" cy="500.8" r="6"/><circle cx="394.8" cy="508.6" r="6"/><circle cx="480.1" cy="494.4" r="6"/><circle cx="481.7" cy="508.1" r="6"/><circle cx="490.6" cy="509.7" r="6"/><circle cx="489.0" cy="517.0" r="6"/><circle cx="513.3" cy="522.7" r="6"/><circle cx="588.5" cy="494.9" r="6"/><circle cx="578.0" cy="515.9" r="6"/><circle cx="591.8" cy="528.3" r="6"/><circle cx="576.4" cy="536.4" r="6"/><circle cx="367.3" cy="531.6" r="6"/><circle cx="468.3" cy="530.5" r="6"/><circle cx="492.2" cy="530.0" r="6"/><circle cx="369.3" cy="547.0" r="6"/><circle cx="392.7" cy="545.3" r="6"/><circle cx="404.9" cy="553.4" r="6"/><circle cx="400.0" cy="549.4" r="6"/><circle cx="437.2" cy="544.5" r="6"/><circle cx="476.9" cy="561.5" r="6"/><circle cx="591.0" cy="559.9" r="6"/><circle cx="379.3" cy="572.8" r="6"/><circle cx="364.1" cy="579.3" r="6"/><circle cx="378.2" cy="584.2" r="6"/><circle cx="396.5" cy="591.5" r="6"/><circle cx="523.3" cy="571.2" r="6"/><circle cx="552.1" cy="580.9" r="6"/><circle cx="542.1" cy="591.5" r="6"/><circle cx="569.9" cy="594.7" r="6"/><circle cx="540.8" cy="609.3" r="6"/><circle cx="549.7" cy="607.6" r="6"/><circle cx="535.6" cy="616.5" r="6"/><circle cx="562.6" cy="621.4" r="6"/><circle cx="582.9" cy="625.4" r="6"/><circle cx="586.9" cy="634.3" r="6"/><circle cx="447.8" cy="606.0" r="6"/><circle cx="464.7" cy="606.0" r="6"/><circle cx="475.3" cy="619.8" r="6"/><circle cx="408.6" cy="616.5" r="6"/><circle cx="407.0" cy="627.9" r="6"/><circle cx="366.0" cy="633.5" r="6"/><circle cx="434.0" cy="638.4" r="6"/><circle cx="533.5" cy="634.3" r="6"/><circle cx="516.8" cy="639.2" r="6"/><circle cx="386.7" cy="655.2" r="6"/><circle cx="430.8" cy="655.2" r="6"/><circle cx="410.5" cy="669.3" r="6"/><circle cx="375.7" cy="668.2" r="6"/><circle cx="381.4" cy="676.3" r="6"/><circle cx="391.1" cy="680.3" r="6"/><circle cx="387.9" cy="688.4" r="6"/><circle cx="420.7" cy="686.0" r="6"/><circle cx="432.7" cy="695.7" r="6"/><circle cx="450.2" cy="694.9" r="6"/><circle cx="459.9" cy="684.4" r="6"/><circle cx="467.2" cy="686.0" r="6"/><circle cx="528.7" cy="660.1" r="6"/><circle cx="547.3" cy="660.9" r="6"/><circle cx="564.3" cy="656.0" r="6"/><circle cx="519.4" cy="670.6" r="6"/><circle cx="493.9" cy="680.3" r="6"/><circle cx="510.9" cy="697.3" r="6"/><circle cx="504.4" cy="707.0" r="6"/><circle cx="502.8" cy="715.1" r="6"/><circle cx="544.0" cy="703.0" r="6"/><circle cx="557.8" cy="689.2" r="6"/><circle cx="558.6" cy="696.5" r="6"/><circle cx="570.7" cy="690.0" r="6"/><circle cx="582.1" cy="690.8" r="6"/><circle cx="585.3" cy="708.6" r="6"/><circle cx="579.6" cy="727.2" r="6"/><circle cx="554.5" cy="724.8" r="6"/><circle cx="555.4" cy="731.3" r="6"/><circle cx="545.6" cy="732.1" r="6"/><circle cx="529.5" cy="732.9" r="6"/><circle cx="509.2" cy="741.0" r="6"/><circle cx="425.4" cy="719.1" r="6"/><circle cx="442.9" cy="715.9" r="6"/><circle cx="456.3" cy="718.8" r="6"/><circle cx="384.6" cy="727.2" r="6"/><circle cx="400.0" cy="729.7" r="6"/><circle cx="370.6" cy="741.0" r="6"/><circle cx="389.5" cy="741.0" r="6"/><circle cx="398.4" cy="745.0" r="6"/><circle cx="446.1" cy="738.6" r="6"/><circle cx="438.9" cy="746.7" r="6"/><circle cx="374.1" cy="762.8" r="6"/><circle cx="418.6" cy="765.3" r="6"/><circle cx="442.9" cy="771.7" r="6"/><circle cx="537.6" cy="762.8" r="6"/><circle cx="527.0" cy="768.5" r="6"/><circle cx="539.2" cy="769.3" r="6"/><circle cx="561.0" cy="788.7" r="6"/><circle cx="383.0" cy="793.6" r="6"/><circle cx="417.0" cy="800.9" r="6"/><circle cx="501.1" cy="801.7" r="6"/><circle cx="525.4" cy="811.4" r="6"/><circle cx="458.3" cy="825.1" r="6"/><circle cx="372.5" cy="831.6" r="6"/><circle cx="411.7" cy="832.4" r="6"/><circle cx="429.1" cy="837.3" r="6"/><circle cx="507.6" cy="832.4" r="6"/><circle cx="506.8" cy="839.7" r="6"/><circle cx="518.1" cy="839.7" r="6"/><circle cx="496.3" cy="857.5" r="6"/><circle cx="499.5" cy="868.0" r="6"/><circle cx="605.4" cy="435.3" r="6"/><circle cx="611.0" cy="445.0" r="6"/><circle cx="684.7" cy="422.4" r="6"/><circle cx="729.2" cy="426.9" r="6"/><circle cx="727.2" cy="453.1" r="6"/><circle cx="807.6" cy="435.3" r="6"/><circle cx="744.5" cy="469.3" r="6"/><circle cx="682.2" cy="485.5" r="6"/><circle cx="619.1" cy="495.2" r="6"/><circle cx="742.4" cy="492.8" r="6"/><circle cx="762.8" cy="490.3" r="6"/><circle cx="814.9" cy="496.0" r="6"/><circle cx="813.0" cy="502.5" r="6"/><circle cx="708.9" cy="500.0" r="6"/><circle cx="701.7" cy="505.7" r="6"/><circle cx="600.5" cy="510.6" r="6"/><circle cx="604.6" cy="514.6" r="6"/><circle cx="780.1" cy="515.4" r="6"/><circle cx="770.4" cy="519.4" r="6"/><circle cx="806.0" cy="516.2" r="6"/><circle cx="801.2" cy="526.7" r="6"/><circle cx="775.3" cy="535.6" r="6"/><circle cx="718.6" cy="534.8" r="6"/><circle cx="617.5" cy="551.0" r="6"/><circle cx="666.9" cy="547.3" r="6"/><circle cx="730.5" cy="548.6" r="6"/><circle cx="826.6" cy="544.5" r="6"/><circle cx="735.6" cy="563.1" r="6"/><circle cx="762.3" cy="561.5" r="6"/><circle cx="768.0" cy="561.5" r="6"/><circle cx="828.2" cy="563.9" r="6"/><circle cx="669.0" cy="574.5" r="6"/><circle cx="635.3" cy="589.8" r="6"/><circle cx="648.3" cy="586.6" r="6"/><circle cx="659.9" cy="585.8" r="6"/><circle cx="699.7" cy="585.8" r="6"/><circle cx="799.5" cy="583.4" r="6"/><circle cx="809.3" cy="583.4" r="6"/><circle cx="773.7" cy="588.2" r="6"/><circle cx="764.8" cy="593.9" r="6"/><circle cx="795.5" cy="593.9" r="6"/><circle cx="602.9" cy="607.6" r="6"/><circle cx="608.6" cy="605.2" r="6"/><circle cx="639.8" cy="615.7" r="6"/><circle cx="657.2" cy="609.3" r="6"/><circle cx="689.0" cy="609.3" r="6"/><circle cx="673.3" cy="619.0" r="6"/><circle cx="737.2" cy="615.7" r="6"/><circle cx="772.0" cy="615.7" r="6"/><circle cx="819.8" cy="610.9" r="6"/><circle cx="638.2" cy="627.9" r="6"/><circle cx="686.3" cy="631.1" r="6"/><circle cx="725.6" cy="627.9" r="6"/><circle cx="783.4" cy="628.7" r="6"/><circle cx="653.9" cy="636.0" r="6"/><circle cx="753.4" cy="637.6" r="6"/><circle cx="835.1" cy="636.8" r="6"/><circle cx="795.5" cy="639.2" r="6"/><circle cx="810.9" cy="638.4" r="6"/><circle cx="608.6" cy="669.0" r="6"/><circle cx="641.8" cy="662.5" r="6"/><circle cx="620.7" cy="687.6" r="6"/><circle cx="670.9" cy="656.0" r="6"/><circle cx="677.4" cy="660.9" r="6"/><circle cx="691.1" cy="651.2" r="6"/><circle cx="694.9" cy="663.8" r="6"/><circle cx="720.3" cy="660.9" r="6"/><circle cx="650.7" cy="682.7" r="6"/><circle cx="656.7" cy="687.6" r="6"/><circle cx="696.0" cy="682.7" r="6"/><circle cx="706.5" cy="680.3" r="6"/><circle cx="717.8" cy="683.5" r="6"/><circle cx="743.7" cy="672.2" r="6"/><circle cx="767.2" cy="678.7" r="6"/><circle cx="759.9" cy="683.5" r="6"/><circle cx="755.0" cy="690.0" r="6"/><circle cx="734.0" cy="690.8" r="6"/><circle cx="800.4" cy="654.4" r="6"/><circle cx="833.5" cy="660.1" r="6"/><circle cx="816.5" cy="679.5" r="6"/><circle cx="821.4" cy="688.4" r="6"/><circle cx="830.3" cy="689.2" r="6"/><circle cx="632.9" cy="703.8" r="6"/><circle cx="646.6" cy="709.4" r="6"/><circle cx="687.9" cy="704.6" r="6"/><circle cx="776.9" cy="703.8" r="6"/><circle cx="804.4" cy="700.5" r="6"/><circle cx="818.2" cy="707.8" r="6"/><circle cx="831.9" cy="707.8" r="6"/><circle cx="751.5" cy="714.6" r="6"/><circle cx="732.4" cy="722.4" r="6"/><circle cx="758.3" cy="726.4" r="6"/><circle cx="756.3" cy="738.6" r="6"/><circle cx="624.3" cy="726.9" r="6"/><circle cx="692.8" cy="726.9" r="6"/><circle cx="698.4" cy="741.8" r="6"/><circle cx="715.4" cy="742.6" r="6"/><circle cx="739.2" cy="745.8" r="6"/><circle cx="839.2" cy="731.3" r="6"/><circle cx="613.9" cy="758.0" r="6"/><circle cx="625.6" cy="758.8" r="6"/><circle cx="623.2" cy="776.6" r="6"/><circle cx="652.0" cy="781.4" r="6"/><circle cx="643.4" cy="792.0" r="6"/><circle cx="680.9" cy="775.8" r="6"/><circle cx="711.7" cy="772.5" r="6"/><circle cx="703.3" cy="784.7" r="6"/><circle cx="713.8" cy="786.3" r="6"/><circle cx="789.0" cy="791.1" r="6"/><circle cx="825.4" cy="795.2" r="6"/><circle cx="837.6" cy="808.1" r="6"/><circle cx="677.4" cy="813.8" r="6"/><circle cx="662.0" cy="830.8" r="6"/><circle cx="778.5" cy="824.3" r="6"/><circle cx="787.4" cy="824.3" r="6"/><circle cx="615.9" cy="853.4" r="6"/><circle cx="665.7" cy="852.6" r="6"/><circle cx="865.7" cy="404.6" r="6"/><circle cx="861.7" cy="408.6" r="6"/><circle cx="868.2" cy="415.1" r="6"/><circle cx="936.1" cy="411.0" r="6"/><circle cx="996.8" cy="402.9" r="6"/><circle cx="994.9" cy="415.9" r="6"/><circle cx="1078.5" cy="419.9" r="6"/><circle cx="890.3" cy="430.5" r="6"/><circle cx="888.4" cy="437.7" r="6"/><circle cx="1064.8" cy="445.0" r="6"/><circle cx="912.3" cy="464.4" r="6"/><circle cx="1080.1" cy="466.9" r="6"/><circle cx="881.4" cy="484.7" r="6"/><circle cx="956.7" cy="493.6" r="6"/><circle cx="982.6" cy="496.8" r="6"/><circle cx="1001.7" cy="502.5" r="6"/><circle cx="1027.6" cy="501.7" r="6"/><circle cx="905.4" cy="501.7" r="6"/><circle cx="893.3" cy="505.7" r="6"/><circle cx="853.6" cy="519.4" r="6"/><circle cx="919.1" cy="514.6" r="6"/><circle cx="928.0" cy="513.8" r="6"/><circle cx="937.8" cy="514.6" r="6"/><circle cx="903.8" cy="524.6" r="6"/><circle cx="1058.3" cy="511.4" r="6"/><circle cx="1028.9" cy="518.6" r="6"/><circle cx="1051.0" cy="521.1" r="6"/><circle cx="931.3" cy="534.0" r="6"/><circle cx="860.9" cy="540.5" r="6"/><circle cx="902.2" cy="546.1" r="6"/><circle cx="924.0" cy="544.5" r="6"/><circle cx="934.5" cy="549.4" r="6"/><circle cx="869.0" cy="550.2" r="6"/><circle cx="874.6" cy="555.9" r="6"/><circle cx="891.6" cy="554.7" r="6"/><circle cx="1012.2" cy="542.9" r="6"/><circle cx="1015.4" cy="552.6" r="6"/><circle cx="989.5" cy="563.1" r="6"/><circle cx="896.5" cy="569.6" r="6"/><circle cx="901.3" cy="573.7" r="6"/><circle cx="876.3" cy="576.1" r="6"/><circle cx="845.5" cy="583.4" r="6"/><circle cx="958.8" cy="572.0" r="6"/><circle cx="970.1" cy="576.9" r="6"/><circle cx="987.9" cy="575.3" r="6"/><circle cx="1003.3" cy="580.9" r="6"/><circle cx="1040.5" cy="572.8" r="6"/><circle cx="1068.8" cy="576.1" r="6"/><circle cx="965.3" cy="589.8" r="6"/><circle cx="1051.8" cy="589.0" r="6"/><circle cx="1050.2" cy="593.9" r="6"/><circle cx="983.9" cy="602.8" r="6"/><circle cx="1030.8" cy="602.0" r="6"/><circle cx="1025.9" cy="608.4" r="6"/><circle cx="1047.8" cy="610.1" r="6"/><circle cx="1061.5" cy="615.7" r="6"/><circle cx="883.5" cy="610.9" r="6"/><circle cx="945.8" cy="620.6" r="6"/><circle cx="945.0" cy="625.4" r="6"/><circle cx="966.9" cy="622.2" r="6"/><circle cx="962.8" cy="624.6" r="6"/><circle cx="1033.2" cy="626.2" r="6"/><circle cx="954.7" cy="636.8" r="6"/><circle cx="1042.9" cy="637.6" r="6"/><circle cx="847.1" cy="660.9" r="6"/><circle cx="911.1" cy="660.1" r="6"/><circle cx="939.9" cy="656.0" r="6"/><circle cx="980.6" cy="648.8" r="6"/><circle cx="999.2" cy="655.2" r="6"/><circle cx="1045.4" cy="645.5" r="6"/><circle cx="1044.5" cy="657.7" r="6"/><circle cx="1020.3" cy="663.3" r="6"/><circle cx="1071.2" cy="648.8" r="6"/><circle cx="1083.4" cy="674.6" r="6"/><circle cx="914.3" cy="679.5" r="6"/><circle cx="925.6" cy="684.4" r="6"/><circle cx="943.1" cy="674.6" r="6"/><circle cx="941.8" cy="692.4" r="6"/><circle cx="932.9" cy="697.3" r="6"/><circle cx="907.0" cy="698.1" r="6"/><circle cx="997.6" cy="669.0" r="6"/><circle cx="985.5" cy="678.7" r="6"/><circle cx="1037.3" cy="686.8" r="6"/><circle cx="1021.9" cy="696.5" r="6"/><circle cx="1023.5" cy="701.3" r="6"/><circle cx="1063.2" cy="698.1" r="6"/><circle cx="1070.4" cy="694.1" r="6"/><circle cx="879.5" cy="714.3" r="6"/><circle cx="856.0" cy="723.2" r="6"/><circle cx="843.9" cy="731.3" r="6"/><circle cx="992.8" cy="716.7" r="6"/><circle cx="1037.3" cy="718.3" r="6"/><circle cx="1076.9" cy="723.7" r="6"/><circle cx="898.9" cy="731.8" r="6"/><circle cx="886.8" cy="737.8" r="6"/><circle cx="960.4" cy="732.1" r="6"/><circle cx="977.4" cy="730.5" r="6"/><circle cx="962.0" cy="743.4" r="6"/><circle cx="948.3" cy="748.3" r="6"/><circle cx="979.0" cy="748.3" r="6"/><circle cx="972.5" cy="756.4" r="6"/><circle cx="991.1" cy="762.5" r="6"/><circle cx="1018.7" cy="758.3" r="6"/><circle cx="858.9" cy="760.9" r="6"/><circle cx="917.5" cy="771.2" r="6"/><circle cx="897.0" cy="777.7" r="6"/><circle cx="1073.7" cy="783.5" r="6"/><circle cx="1081.8" cy="796.0" r="6"/><circle cx="873.0" cy="790.3" r="6"/><circle cx="871.4" cy="796.8" r="6"/><circle cx="878.4" cy="803.3" r="6"/><circle cx="848.8" cy="803.3" r="6"/><circle cx="1004.9" cy="794.4" r="6"/><circle cx="1017.0" cy="801.7" r="6"/><circle cx="1009.8" cy="813.8" r="6"/><circle cx="1055.1" cy="827.6" r="6"/><circle cx="1055.9" cy="832.4" r="6"/><circle cx="953.9" cy="848.9" r="6"/><circle cx="1136.6" cy="374.1" r="6"/><circle cx="1191.7" cy="394.0" r="6"/><circle cx="1304.9" cy="382.7" r="6"/><circle cx="1285.8" cy="410.1" r="6"/><circle cx="1272.6" cy="419.4" r="6"/><circle cx="1328.4" cy="425.9" r="6"/><circle cx="1329.2" cy="435.6" r="6"/><circle cx="1104.3" cy="443.4" r="6"/><circle cx="1220.8" cy="448.2" r="6"/><circle cx="1296.5" cy="451.5" r="6"/><circle cx="1321.9" cy="451.8" r="6"/><circle cx="1183.6" cy="472.4" r="6"/><circle cx="1317.1" cy="471.2" r="6"/><circle cx="1222.4" cy="481.7" r="6"/><circle cx="1244.2" cy="487.4" r="6"/><circle cx="1308.2" cy="481.4" r="6"/><circle cx="1303.3" cy="488.2" r="6"/><circle cx="1174.7" cy="494.4" r="6"/><circle cx="1267.4" cy="496.3" r="6"/><circle cx="1287.9" cy="499.5" r="6"/><circle cx="1306.5" cy="504.4" r="6"/><circle cx="1325.1" cy="498.7" r="6"/><circle cx="1130.2" cy="509.6" r="6"/><circle cx="1116.4" cy="521.4" r="6"/><circle cx="1154.1" cy="522.2" r="6"/><circle cx="1190.0" cy="520.6" r="6"/><circle cx="1265.3" cy="516.0" r="6"/><circle cx="1284.2" cy="525.9" r="6"/><circle cx="1326.8" cy="520.6" r="6"/><circle cx="1231.3" cy="528.7" r="6"/><circle cx="1101.0" cy="536.8" r="6"/><circle cx="1118.0" cy="541.6" r="6"/><circle cx="1147.2" cy="538.4" r="6"/><circle cx="1123.4" cy="554.2" r="6"/><circle cx="1224.0" cy="542.9" r="6"/><circle cx="1237.0" cy="546.5" r="6"/><circle cx="1238.6" cy="550.5" r="6"/><circle cx="1273.9" cy="550.5" r="6"/><circle cx="1297.6" cy="547.3" r="6"/><circle cx="1181.6" cy="565.1" r="6"/><circle cx="1219.2" cy="569.1" r="6"/><circle cx="1229.7" cy="566.7" r="6"/><circle cx="1121.7" cy="583.7" r="6"/><circle cx="1294.4" cy="594.2" r="6"/><circle cx="1311.7" cy="599.9" r="6"/><circle cx="1092.1" cy="607.1" r="6"/><circle cx="1145.5" cy="607.1" r="6"/><circle cx="1165.4" cy="605.5" r="6"/><circle cx="1255.6" cy="605.5" r="6"/><circle cx="1193.3" cy="610.4" r="6"/><circle cx="1249.9" cy="617.0" r="6"/><circle cx="1281.0" cy="621.3" r="6"/><circle cx="1094.3" cy="640.6" r="6"/><circle cx="1172.5" cy="631.3" r="6"/><circle cx="1143.9" cy="638.9" r="6"/><circle cx="1114.5" cy="649.0" r="6"/><circle cx="1121.2" cy="651.5" r="6"/><circle cx="1111.1" cy="655.7" r="6"/><circle cx="1133.8" cy="648.2" r="6"/><circle cx="1162.4" cy="649.9" r="6"/><circle cx="1226.0" cy="642.3" r="6"/><circle cx="1270.9" cy="637.2" r="6"/><circle cx="1269.3" cy="653.2" r="6"/><circle cx="1256.6" cy="656.1" r="6"/><circle cx="1200.3" cy="656.6" r="6"/><circle cx="1212.1" cy="661.6" r="6"/><circle cx="1176.7" cy="664.2" r="6"/><circle cx="1185.1" cy="667.5" r="6"/><circle cx="1197.8" cy="667.5" r="6"/><circle cx="1232.3" cy="664.2" r="6"/><circle cx="1289.5" cy="670.0" r="6"/><circle cx="1326.5" cy="653.2" r="6"/><circle cx="1315.5" cy="676.8" r="6"/><circle cx="1109.4" cy="671.2" r="6"/><circle cx="1160.8" cy="675.9" r="6"/><circle cx="1167.5" cy="682.7" r="6"/><circle cx="1131.3" cy="689.4" r="6"/><circle cx="1142.2" cy="686.9" r="6"/><circle cx="1152.3" cy="686.9" r="6"/><circle cx="1149.0" cy="696.1" r="6"/><circle cx="1188.5" cy="687.7" r="6"/><circle cx="1214.3" cy="687.7" r="6"/><circle cx="1227.7" cy="691.9" r="6"/><circle cx="1099.3" cy="694.4" r="6"/><circle cx="1112.8" cy="699.5" r="6"/><circle cx="1105.2" cy="704.5" r="6"/><circle cx="1087.6" cy="711.3" r="6"/><circle cx="1128.8" cy="715.5" r="6"/><circle cx="1252.4" cy="699.5" r="6"/><circle cx="1262.5" cy="702.0" r="6"/><circle cx="1246.6" cy="712.9" r="6"/><circle cx="1217.6" cy="717.1" r="6"/><circle cx="1090.9" cy="723.9" r="6"/><circle cx="1096.0" cy="735.7" r="6"/><circle cx="1258.7" cy="727.7" r="6"/><circle cx="1234.8" cy="731.4" r="6"/><circle cx="1156.5" cy="742.4" r="6"/><circle cx="1186.8" cy="739.4" r="6"/><circle cx="1292.8" cy="741.5" r="6"/><circle cx="1318.6" cy="750.0" r="6"/><circle cx="1215.9" cy="751.6" r="6"/><circle cx="1241.2" cy="757.0" r="6"/><circle cx="1291.1" cy="755.8" r="6"/><circle cx="1169.2" cy="765.4" r="6"/><circle cx="1097.7" cy="777.7" r="6"/><circle cx="1107.8" cy="784.4" r="6"/><circle cx="1170.8" cy="783.6" r="6"/><circle cx="1210.4" cy="779.7" r="6"/><circle cx="1089.3" cy="806.3" r="6"/><circle cx="1138.9" cy="795.4" r="6"/><circle cx="1239.8" cy="791.2" r="6"/><circle cx="1301.7" cy="838.3" r="6"/><circle cx="1159.1" cy="844.2" r="6"/><circle cx="1205.3" cy="845.0" r="6"/><circle cx="1300.1" cy="856.8" r="6"/><circle cx="1319.7" cy="861.8" r="6"/><circle cx="1140.6" cy="861.8" r="6"/><circle cx="1376.8" cy="359.5" r="6"/><circle cx="1333.9" cy="451.0" r="6"/><circle cx="1442.3" cy="409.2" r="6"/><circle cx="1467.7" cy="413.0" r="6"/><circle cx="1443.9" cy="429.2" r="6"/><circle cx="1488.4" cy="431.3" r="6"/><circle cx="1399.1" cy="451.3" r="6"/><circle cx="1346.0" cy="468.0" r="6"/><circle cx="1344.4" cy="492.7" r="6"/><circle cx="1384.1" cy="491.4" r="6"/><circle cx="1379.2" cy="501.2" r="6"/><circle cx="1405.9" cy="500.3" r="6"/><circle cx="1336.0" cy="508.4" r="6"/><circle cx="1361.4" cy="509.2" r="6"/><circle cx="1375.5" cy="516.5" r="6"/><circle cx="1390.5" cy="521.9" r="6"/><circle cx="1420.1" cy="521.9" r="6"/><circle cx="1440.2" cy="514.4" r="6"/><circle cx="1469.3" cy="486.3" r="6"/><circle cx="1465.8" cy="492.3" r="6"/><circle cx="1473.1" cy="516.5" r="6"/><circle cx="1490.0" cy="521.4" r="6"/><circle cx="1474.7" cy="530.6" r="6"/><circle cx="1486.5" cy="539.2" r="6"/><circle cx="1500.6" cy="536.4" r="6"/><circle cx="1471.4" cy="547.8" r="6"/><circle cx="1528.1" cy="510.5" r="6"/><circle cx="1541.5" cy="518.1" r="6"/><circle cx="1550.7" cy="474.5" r="6"/><circle cx="1562.1" cy="484.2" r="6"/><circle cx="1567.7" cy="493.9" r="6"/><circle cx="1572.6" cy="464.3" r="6"/><circle cx="1573.4" cy="477.7" r="6"/><circle cx="1555.6" cy="544.5" r="6"/><circle cx="1359.8" cy="547.8" r="6"/><circle cx="1398.6" cy="560.2" r="6"/><circle cx="1445.6" cy="554.9" r="6"/><circle cx="1526.5" cy="578.0" r="6"/><circle cx="1518.9" cy="591.8" r="6"/><circle cx="1361.4" cy="595.0" r="6"/><circle cx="1356.6" cy="598.6" r="6"/><circle cx="1385.7" cy="599.9" r="6"/><circle cx="1421.3" cy="606.7" r="6"/><circle cx="1460.6" cy="607.1" r="6"/><circle cx="1514.3" cy="606.3" r="6"/><circle cx="1552.3" cy="602.3" r="6"/><circle cx="1545.9" cy="611.2" r="6"/><circle cx="1431.8" cy="611.2" r="6"/><circle cx="1347.7" cy="617.0" r="6"/><circle cx="1418.4" cy="613.7" r="6"/><circle cx="1498.3" cy="617.9" r="6"/><circle cx="1549.6" cy="620.4" r="6"/><circle cx="1408.3" cy="623.4" r="6"/><circle cx="1337.6" cy="640.6" r="6"/><circle cx="1351.9" cy="638.9" r="6"/><circle cx="1423.4" cy="633.9" r="6"/><circle cx="1432.7" cy="632.2" r="6"/><circle cx="1459.6" cy="631.3" r="6"/><circle cx="1507.5" cy="632.2" r="6"/><circle cx="1483.1" cy="640.6" r="6"/><circle cx="1534.5" cy="638.9" r="6"/><circle cx="1529.4" cy="651.5" r="6"/><circle cx="1543.7" cy="658.3" r="6"/><circle cx="1404.1" cy="657.4" r="6"/><circle cx="1452.9" cy="660.8" r="6"/><circle cx="1483.1" cy="654.9" r="6"/><circle cx="1516.8" cy="665.0" r="6"/><circle cx="1357.0" cy="669.2" r="6"/><circle cx="1425.1" cy="665.0" r="6"/><circle cx="1438.6" cy="667.5" r="6"/><circle cx="1432.7" cy="672.6" r="6"/><circle cx="1436.0" cy="679.3" r="6"/><circle cx="1391.5" cy="681.0" r="6"/><circle cx="1342.7" cy="682.7" r="6"/><circle cx="1426.8" cy="686.0" r="6"/><circle cx="1454.5" cy="681.0" r="6"/><circle cx="1463.8" cy="680.1" r="6"/><circle cx="1476.4" cy="683.5" r="6"/><circle cx="1493.2" cy="675.9" r="6"/><circle cx="1539.5" cy="682.7" r="6"/><circle cx="1570.6" cy="672.6" r="6"/><circle cx="1559.7" cy="690.2" r="6"/><circle cx="1354.4" cy="692.8" r="6"/><circle cx="1402.7" cy="697.0" r="6"/><circle cx="1495.8" cy="698.6" r="6"/><circle cx="1382.2" cy="704.5" r="6"/><circle cx="1373.8" cy="711.3" r="6"/><circle cx="1349.4" cy="712.9" r="6"/><circle cx="1428.5" cy="707.9" r="6"/><circle cx="1447.0" cy="709.6" r="6"/><circle cx="1574.0" cy="711.3" r="6"/><circle cx="1568.9" cy="724.7" r="6"/><circle cx="1520.2" cy="723.0" r="6"/><circle cx="1510.1" cy="726.4" r="6"/><circle cx="1508.4" cy="734.8" r="6"/><circle cx="1416.7" cy="746.6" r="6"/><circle cx="1436.9" cy="746.6" r="6"/><circle cx="1457.9" cy="748.3" r="6"/><circle cx="1463.0" cy="749.1" r="6"/><circle cx="1496.6" cy="754.2" r="6"/><circle cx="1536.1" cy="746.6" r="6"/><circle cx="1380.5" cy="760.0" r="6"/><circle cx="1532.8" cy="764.3" r="6"/><circle cx="1413.3" cy="772.7" r="6"/><circle cx="1365.4" cy="780.2" r="6"/><circle cx="1372.1" cy="776.9" r="6"/><circle cx="1544.5" cy="780.2" r="6"/><circle cx="1479.8" cy="785.3" r="6"/><circle cx="1369.6" cy="792.9" r="6"/><circle cx="1395.7" cy="795.4" r="6"/><circle cx="1455.9" cy="792.0" r="6"/><circle cx="1451.2" cy="799.6" r="6"/><circle cx="1387.2" cy="808.8" r="6"/><circle cx="1524.4" cy="813.0" r="6"/><circle cx="1557.2" cy="810.5" r="6"/><circle cx="1339.3" cy="834.9" r="6"/><circle cx="1449.2" cy="840.8" r="6"/><circle cx="1478.1" cy="845.0" r="6"/><circle cx="1531.1" cy="850.9" r="6"/><circle cx="1537.8" cy="854.3" r="6"/><circle cx="1368.7" cy="866.0" r="6"/><circle cx="1665.1" cy="378.5" r="6"/><circle cx="1707.9" cy="398.4" r="6"/><circle cx="1642.8" cy="418.6" r="6"/><circle cx="1675.2" cy="420.3" r="6"/><circle cx="1685.7" cy="413.8" r="6"/><circle cx="1722.9" cy="416.7" r="6"/><circle cx="1762.6" cy="416.7" r="6"/><circle cx="1783.6" cy="418.3" r="6"/><circle cx="1793.3" cy="418.6" r="6"/><circle cx="1755.8" cy="428.7" r="6"/><circle cx="1604.8" cy="437.2" r="6"/><circle cx="1640.9" cy="436.4" r="6"/><circle cx="1666.3" cy="443.2" r="6"/><circle cx="1721.3" cy="442.1" r="6"/><circle cx="1798.2" cy="445.8" r="6"/><circle cx="1653.8" cy="452.6" r="6"/><circle cx="1774.2" cy="455.5" r="6"/><circle cx="1611.7" cy="459.9" r="6"/><circle cx="1589.4" cy="464.8" r="6"/><circle cx="1769.4" cy="468.5" r="6"/><circle cx="1814.0" cy="468.0" r="6"/><circle cx="1743.5" cy="472.8" r="6"/><circle cx="1707.5" cy="482.1" r="6"/><circle cx="1781.7" cy="479.8" r="6"/><circle cx="1771.5" cy="490.2" r="6"/><circle cx="1800.1" cy="487.9" r="6"/><circle cx="1792.5" cy="493.9" r="6"/><circle cx="1794.9" cy="500.3" r="6"/><circle cx="1776.3" cy="502.0" r="6"/><circle cx="1692.2" cy="494.4" r="6"/><circle cx="1663.5" cy="498.2" r="6"/><circle cx="1714.8" cy="513.3" r="6"/><circle cx="1741.8" cy="511.7" r="6"/><circle cx="1748.8" cy="521.9" r="6"/><circle cx="1773.1" cy="520.6" r="6"/><circle cx="1610.5" cy="514.1" r="6"/><circle cx="1603.2" cy="521.9" r="6"/><circle cx="1587.8" cy="523.8" r="6"/><circle cx="1667.9" cy="544.0" r="6"/><circle cx="1673.6" cy="550.5" r="6"/><circle cx="1784.9" cy="540.0" r="6"/><circle cx="1796.9" cy="549.7" r="6"/><circle cx="1591.4" cy="553.7" r="6"/><circle cx="1656.6" cy="557.8" r="6"/><circle cx="1725.0" cy="559.4" r="6"/><circle cx="1733.4" cy="573.2" r="6"/><circle cx="1731.5" cy="582.9" r="6"/><circle cx="1747.7" cy="586.1" r="6"/><circle cx="1704.0" cy="588.9" r="6"/><circle cx="1606.4" cy="574.3" r="6"/><circle cx="1644.4" cy="575.6" r="6"/><circle cx="1670.0" cy="580.4" r="6"/><circle cx="1650.9" cy="591.0" r="6"/><circle cx="1581.0" cy="579.6" r="6"/><circle cx="1579.4" cy="597.4" r="6"/><circle cx="1807.1" cy="578.8" r="6"/><circle cx="1764.2" cy="603.1" r="6"/><circle cx="1757.7" cy="608.0" r="6"/><circle cx="1811.9" cy="604.7" r="6"/><circle cx="1623.4" cy="605.5" r="6"/><circle cx="1697.8" cy="606.3" r="6"/><circle cx="1671.1" cy="611.2" r="6"/><circle cx="1802.2" cy="615.4" r="6"/><circle cx="1808.9" cy="621.3" r="6"/><circle cx="1575.0" cy="649.9" r="6"/><circle cx="1736.6" cy="622.1" r="6"/><circle cx="1745.0" cy="627.1" r="6"/><circle cx="1690.3" cy="628.0" r="6"/><circle cx="1686.9" cy="636.4" r="6"/><circle cx="1639.0" cy="638.1" r="6"/><circle cx="1622.2" cy="652.4" r="6"/><circle cx="1716.0" cy="650.7" r="6"/><circle cx="1788.7" cy="648.2" r="6"/><circle cx="1814.8" cy="646.5" r="6"/><circle cx="1608.7" cy="664.2" r="6"/><circle cx="1592.7" cy="669.2" r="6"/><circle cx="1586.0" cy="679.3" r="6"/><circle cx="1698.7" cy="665.0" r="6"/><circle cx="1628.9" cy="680.1" r="6"/><circle cx="1645.7" cy="675.9" r="6"/><circle cx="1680.2" cy="678.5" r="6"/><circle cx="1702.9" cy="678.5" r="6"/><circle cx="1767.7" cy="680.1" r="6"/><circle cx="1788.7" cy="684.3" r="6"/><circle cx="1810.6" cy="678.5" r="6"/><circle cx="1803.8" cy="692.8" r="6"/><circle cx="1594.4" cy="690.2" r="6"/><circle cx="1649.1" cy="690.2" r="6"/><circle cx="1684.4" cy="692.4" r="6"/><circle cx="1712.7" cy="698.6" r="6"/><circle cx="1581.8" cy="702.8" r="6"/><circle cx="1577.6" cy="710.4" r="6"/><circle cx="1647.4" cy="704.5" r="6"/><circle cx="1657.8" cy="707.1" r="6"/><circle cx="1711.0" cy="709.6" r="6"/><circle cx="1805.2" cy="707.1" r="6"/><circle cx="1636.5" cy="717.1" r="6"/><circle cx="1754.2" cy="719.7" r="6"/><circle cx="1778.6" cy="723.9" r="6"/><circle cx="1719.7" cy="729.4" r="6"/><circle cx="1613.4" cy="734.0" r="6"/><circle cx="1584.3" cy="754.7" r="6"/><circle cx="1602.0" cy="765.4" r="6"/><circle cx="1740.8" cy="751.6" r="6"/><circle cx="1726.5" cy="765.4" r="6"/><circle cx="1738.2" cy="772.7" r="6"/><circle cx="1625.5" cy="776.9" r="6"/><circle cx="1631.4" cy="777.7" r="6"/><circle cx="1596.1" cy="784.4" r="6"/><circle cx="1661.7" cy="781.6" r="6"/><circle cx="1694.2" cy="777.7" r="6"/><circle cx="1696.2" cy="786.1" r="6"/><circle cx="1700.9" cy="810.5" r="6"/><circle cx="1626.4" cy="820.6" r="6"/><circle cx="1619.6" cy="827.3" r="6"/><circle cx="1618.8" cy="834.1" r="6"/><circle cx="1688.6" cy="837.4" r="6"/><circle cx="1760.1" cy="832.4" r="6"/><circle cx="1766.0" cy="836.6" r="6"/><circle cx="1750.9" cy="847.5" r="6"/><circle cx="1660.0" cy="864.4" r="6"/></g>
<g font-family="Liberation Sans, Arial, sans-serif" font-size="53.8" fill="#000" stroke="#000" stroke-width="0.45">
<text transform="translate(89,1449.6) scale(1,1.025)" text-anchor="end">10</text>
<text transform="translate(89,1253.2) scale(1,1.025)" text-anchor="end">15</text>
<text transform="translate(89,1056.8) scale(1,1.025)" text-anchor="end">20</text>
<text transform="translate(89,860.4) scale(1,1.025)" text-anchor="end">25</text>
<text transform="translate(89,664.0) scale(1,1.025)" text-anchor="end">30</text>
<text transform="translate(89,467.6) scale(1,1.025)" text-anchor="end">35</text>
<text transform="translate(89,271.2) scale(1,1.025)" text-anchor="end">40</text>
<text transform="translate(89,74.8) scale(1,1.025)" text-anchor="end">45</text>
<text transform="translate(103.8,1497) scale(1,1.025)" text-anchor="middle">0</text>
<text transform="translate(452.5,1497) scale(1,1.025)" text-anchor="middle">1</text>
<text transform="translate(801.1,1497) scale(1,1.025)" text-anchor="middle">2</text>
<text transform="translate(1149.8,1497) scale(1,1.025)" text-anchor="middle">3</text>
<text transform="translate(1498.5,1497) scale(1,1.025)" text-anchor="middle">4</text>
<text transform="translate(1847.2,1497) scale(1,1.025)" text-anchor="middle">5</text>
</g>
<rect x="1077" y="82" width="743.5" height="279" fill="#fff" stroke="#000" stroke-width="4" transform="translate(0,0)"/>
<line x1="1108" y1="123" x2="1272" y2="123" stroke="#00f" stroke-width="7" stroke-dasharray="4 20.2"/>
<line x1="1108" y1="188.7" x2="1272" y2="188.7" stroke="#000" stroke-width="9.5" stroke-dasharray="4 20 34 20"/>
<line x1="1108" y1="254.6" x2="1272" y2="254.6" stroke="#f00" stroke-width="9"/>
<circle cx="1190.2" cy="320.1" r="6"/>
<g font-family="Liberation Sans, Arial, sans-serif" font-size="53.8" fill="#000" stroke="#000" stroke-width="0.45">
<text transform="translate(1287.5,142.0) scale(1,1.025)">Measured inclination</text>
<text transform="translate(1287.5,207.8) scale(1,1.025)">Theoretical inclination</text>
<text transform="translate(1287.5,273.6) scale(1,1.025)">EDWT</text>
<text transform="translate(1287.5,339.4) scale(1,1.025)">LPF</text>
</g>
</svg></body></html>
